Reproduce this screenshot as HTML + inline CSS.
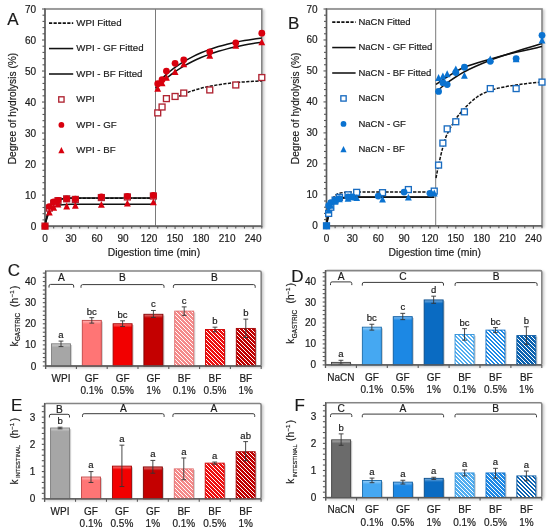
<!DOCTYPE html>
<html><head><meta charset="utf-8"><style>
html,body{margin:0;padding:0;background:#fff;overflow:hidden;width:550px;height:532px;}
svg{display:block;font-family:"Liberation Sans", sans-serif;}
text{stroke:#1a1a1a;stroke-width:0.18px;}
svg{will-change:transform;}
</style></head><body>
<svg width="550" height="532" viewBox="0 0 550 532">
<defs><linearGradient id="hl" x1="0" y1="0" x2="0" y2="1"><stop offset="0" stop-color="#fff" stop-opacity="0.42"/><stop offset="1" stop-color="#fff" stop-opacity="0"/></linearGradient><filter id="sh" x="-5%" y="-5%" width="112%" height="112%"><feDropShadow dx="1.6" dy="1.2" stdDeviation="1" flood-color="#000" flood-opacity="0.22"/></filter><pattern id="hp" patternUnits="userSpaceOnUse" width="2.4" height="2.4" patternTransform="rotate(45)"><rect width="2.4" height="2.4" fill="#fff"/><rect width="2.4" height="1.45" fill="#f58a8a" shape-rendering="crispEdges"/></pattern><pattern id="hr" patternUnits="userSpaceOnUse" width="2.4" height="2.4" patternTransform="rotate(45)"><rect width="2.4" height="2.4" fill="#fff"/><rect width="2.4" height="1.45" fill="#ee1010" shape-rendering="crispEdges"/></pattern><pattern id="hd" patternUnits="userSpaceOnUse" width="2.4" height="2.4" patternTransform="rotate(45)"><rect width="2.4" height="2.4" fill="#fff"/><rect width="2.4" height="1.45" fill="#c00000" shape-rendering="crispEdges"/></pattern><pattern id="bl" patternUnits="userSpaceOnUse" width="2.4" height="2.4" patternTransform="rotate(45)"><rect width="2.4" height="2.4" fill="#fff"/><rect width="2.4" height="1.45" fill="#52aef0" shape-rendering="crispEdges"/></pattern><pattern id="bm" patternUnits="userSpaceOnUse" width="2.4" height="2.4" patternTransform="rotate(45)"><rect width="2.4" height="2.4" fill="#fff"/><rect width="2.4" height="1.45" fill="#1f8ae6" shape-rendering="crispEdges"/></pattern><pattern id="bd" patternUnits="userSpaceOnUse" width="2.4" height="2.4" patternTransform="rotate(45)"><rect width="2.4" height="2.4" fill="#fff"/><rect width="2.4" height="1.45" fill="#0b62b0" shape-rendering="crispEdges"/></pattern><clipPath id="cp8"><rect x="174.7" y="311.11" width="19" height="54.89"/></clipPath><clipPath id="cp9"><rect x="205.5" y="329.48" width="19" height="36.52"/></clipPath><clipPath id="cp10"><rect x="236.3" y="328.42" width="19" height="37.58"/></clipPath><clipPath id="cp11"><rect x="455.05" y="334.51" width="19" height="30.39"/></clipPath><clipPath id="cp12"><rect x="485.95" y="330.11" width="19" height="34.79"/></clipPath><clipPath id="cp13"><rect x="516.85" y="335.56" width="19" height="29.34"/></clipPath><clipPath id="cp14"><rect x="174.28" y="468.85" width="19" height="29.95"/></clipPath><clipPath id="cp15"><rect x="205.21" y="463.13" width="19" height="35.67"/></clipPath><clipPath id="cp16"><rect x="236.14" y="451.69" width="19" height="47.11"/></clipPath><clipPath id="cp17"><rect x="455.12" y="472.93" width="19" height="24.67"/></clipPath><clipPath id="cp18"><rect x="485.99" y="472.93" width="19" height="24.67"/></clipPath><clipPath id="cp19"><rect x="516.86" y="475.91" width="19" height="21.69"/></clipPath><filter id="bl" filterUnits="userSpaceOnUse" x="0" y="0" width="550" height="532"><feGaussianBlur stdDeviation="0.3"/></filter></defs>
<rect width="550" height="532" fill="#fff"/>
<g filter="url(#bl)"><rect x="45" y="9" width="216.8" height="217.1" fill="#fff" stroke="#858585" stroke-width="1.6" filter="url(#sh)"/>
<line x1="155.5" y1="9" x2="155.5" y2="226.1" stroke="#7a7a7a" stroke-width="1" />
<line x1="45" y1="8.4" x2="45" y2="226.7" stroke="#5a5a5a" stroke-width="1.3" />
<line x1="44.4" y1="226.1" x2="261.8" y2="226.1" stroke="#5a5a5a" stroke-width="1.3" />
<line x1="42" y1="226.1" x2="45" y2="226.1" stroke="#5a5a5a" stroke-width="1.1" />
<line x1="42.5" y1="219.9" x2="45" y2="219.9" stroke="#5a5a5a" stroke-width="1.1" />
<line x1="42.5" y1="213.69" x2="45" y2="213.69" stroke="#5a5a5a" stroke-width="1.1" />
<line x1="42.5" y1="207.49" x2="45" y2="207.49" stroke="#5a5a5a" stroke-width="1.1" />
<line x1="42.5" y1="201.29" x2="45" y2="201.29" stroke="#5a5a5a" stroke-width="1.1" />
<line x1="42" y1="195.09" x2="45" y2="195.09" stroke="#5a5a5a" stroke-width="1.1" />
<line x1="42.5" y1="188.88" x2="45" y2="188.88" stroke="#5a5a5a" stroke-width="1.1" />
<line x1="42.5" y1="182.68" x2="45" y2="182.68" stroke="#5a5a5a" stroke-width="1.1" />
<line x1="42.5" y1="176.48" x2="45" y2="176.48" stroke="#5a5a5a" stroke-width="1.1" />
<line x1="42.5" y1="170.27" x2="45" y2="170.27" stroke="#5a5a5a" stroke-width="1.1" />
<line x1="42" y1="164.07" x2="45" y2="164.07" stroke="#5a5a5a" stroke-width="1.1" />
<line x1="42.5" y1="157.87" x2="45" y2="157.87" stroke="#5a5a5a" stroke-width="1.1" />
<line x1="42.5" y1="151.67" x2="45" y2="151.67" stroke="#5a5a5a" stroke-width="1.1" />
<line x1="42.5" y1="145.46" x2="45" y2="145.46" stroke="#5a5a5a" stroke-width="1.1" />
<line x1="42.5" y1="139.26" x2="45" y2="139.26" stroke="#5a5a5a" stroke-width="1.1" />
<line x1="42" y1="133.06" x2="45" y2="133.06" stroke="#5a5a5a" stroke-width="1.1" />
<line x1="42.5" y1="126.85" x2="45" y2="126.85" stroke="#5a5a5a" stroke-width="1.1" />
<line x1="42.5" y1="120.65" x2="45" y2="120.65" stroke="#5a5a5a" stroke-width="1.1" />
<line x1="42.5" y1="114.45" x2="45" y2="114.45" stroke="#5a5a5a" stroke-width="1.1" />
<line x1="42.5" y1="108.25" x2="45" y2="108.25" stroke="#5a5a5a" stroke-width="1.1" />
<line x1="42" y1="102.04" x2="45" y2="102.04" stroke="#5a5a5a" stroke-width="1.1" />
<line x1="42.5" y1="95.84" x2="45" y2="95.84" stroke="#5a5a5a" stroke-width="1.1" />
<line x1="42.5" y1="89.64" x2="45" y2="89.64" stroke="#5a5a5a" stroke-width="1.1" />
<line x1="42.5" y1="83.43" x2="45" y2="83.43" stroke="#5a5a5a" stroke-width="1.1" />
<line x1="42.5" y1="77.23" x2="45" y2="77.23" stroke="#5a5a5a" stroke-width="1.1" />
<line x1="42" y1="71.03" x2="45" y2="71.03" stroke="#5a5a5a" stroke-width="1.1" />
<line x1="42.5" y1="64.83" x2="45" y2="64.83" stroke="#5a5a5a" stroke-width="1.1" />
<line x1="42.5" y1="58.62" x2="45" y2="58.62" stroke="#5a5a5a" stroke-width="1.1" />
<line x1="42.5" y1="52.42" x2="45" y2="52.42" stroke="#5a5a5a" stroke-width="1.1" />
<line x1="42.5" y1="46.22" x2="45" y2="46.22" stroke="#5a5a5a" stroke-width="1.1" />
<line x1="42" y1="40.01" x2="45" y2="40.01" stroke="#5a5a5a" stroke-width="1.1" />
<line x1="42.5" y1="33.81" x2="45" y2="33.81" stroke="#5a5a5a" stroke-width="1.1" />
<line x1="42.5" y1="27.61" x2="45" y2="27.61" stroke="#5a5a5a" stroke-width="1.1" />
<line x1="42.5" y1="21.41" x2="45" y2="21.41" stroke="#5a5a5a" stroke-width="1.1" />
<line x1="42.5" y1="15.2" x2="45" y2="15.2" stroke="#5a5a5a" stroke-width="1.1" />
<line x1="42" y1="9" x2="45" y2="9" stroke="#5a5a5a" stroke-width="1.1" />
<line x1="45" y1="226.1" x2="45" y2="229.1" stroke="#5a5a5a" stroke-width="1.1" />
<line x1="53.67" y1="226.1" x2="53.67" y2="228.6" stroke="#5a5a5a" stroke-width="1.1" />
<line x1="62.34" y1="226.1" x2="62.34" y2="228.6" stroke="#5a5a5a" stroke-width="1.1" />
<line x1="71.02" y1="226.1" x2="71.02" y2="229.1" stroke="#5a5a5a" stroke-width="1.1" />
<line x1="79.69" y1="226.1" x2="79.69" y2="228.6" stroke="#5a5a5a" stroke-width="1.1" />
<line x1="88.36" y1="226.1" x2="88.36" y2="228.6" stroke="#5a5a5a" stroke-width="1.1" />
<line x1="97.03" y1="226.1" x2="97.03" y2="229.1" stroke="#5a5a5a" stroke-width="1.1" />
<line x1="105.7" y1="226.1" x2="105.7" y2="228.6" stroke="#5a5a5a" stroke-width="1.1" />
<line x1="114.38" y1="226.1" x2="114.38" y2="228.6" stroke="#5a5a5a" stroke-width="1.1" />
<line x1="123.05" y1="226.1" x2="123.05" y2="229.1" stroke="#5a5a5a" stroke-width="1.1" />
<line x1="131.72" y1="226.1" x2="131.72" y2="228.6" stroke="#5a5a5a" stroke-width="1.1" />
<line x1="140.39" y1="226.1" x2="140.39" y2="228.6" stroke="#5a5a5a" stroke-width="1.1" />
<line x1="149.06" y1="226.1" x2="149.06" y2="229.1" stroke="#5a5a5a" stroke-width="1.1" />
<line x1="157.74" y1="226.1" x2="157.74" y2="228.6" stroke="#5a5a5a" stroke-width="1.1" />
<line x1="166.41" y1="226.1" x2="166.41" y2="228.6" stroke="#5a5a5a" stroke-width="1.1" />
<line x1="175.08" y1="226.1" x2="175.08" y2="229.1" stroke="#5a5a5a" stroke-width="1.1" />
<line x1="183.75" y1="226.1" x2="183.75" y2="228.6" stroke="#5a5a5a" stroke-width="1.1" />
<line x1="192.42" y1="226.1" x2="192.42" y2="228.6" stroke="#5a5a5a" stroke-width="1.1" />
<line x1="201.1" y1="226.1" x2="201.1" y2="229.1" stroke="#5a5a5a" stroke-width="1.1" />
<line x1="209.77" y1="226.1" x2="209.77" y2="228.6" stroke="#5a5a5a" stroke-width="1.1" />
<line x1="218.44" y1="226.1" x2="218.44" y2="228.6" stroke="#5a5a5a" stroke-width="1.1" />
<line x1="227.11" y1="226.1" x2="227.11" y2="229.1" stroke="#5a5a5a" stroke-width="1.1" />
<line x1="235.78" y1="226.1" x2="235.78" y2="228.6" stroke="#5a5a5a" stroke-width="1.1" />
<line x1="244.46" y1="226.1" x2="244.46" y2="228.6" stroke="#5a5a5a" stroke-width="1.1" />
<line x1="253.13" y1="226.1" x2="253.13" y2="229.1" stroke="#5a5a5a" stroke-width="1.1" />
<line x1="261.8" y1="226.1" x2="261.8" y2="228.6" stroke="#5a5a5a" stroke-width="1.1" />
<text x="36.2" y="229.6" font-size="10" text-anchor="end" fill="#1a1a1a" >0</text>
<text x="36.2" y="198.59" font-size="10" text-anchor="end" fill="#1a1a1a" >10</text>
<text x="36.2" y="167.57" font-size="10" text-anchor="end" fill="#1a1a1a" >20</text>
<text x="36.2" y="136.56" font-size="10" text-anchor="end" fill="#1a1a1a" >30</text>
<text x="36.2" y="105.54" font-size="10" text-anchor="end" fill="#1a1a1a" >40</text>
<text x="36.2" y="74.53" font-size="10" text-anchor="end" fill="#1a1a1a" >50</text>
<text x="36.2" y="43.51" font-size="10" text-anchor="end" fill="#1a1a1a" >60</text>
<text x="36.2" y="12.5" font-size="10" text-anchor="end" fill="#1a1a1a" >70</text>
<text x="45" y="241.9" font-size="10" text-anchor="middle" fill="#1a1a1a" >0</text>
<text x="71.02" y="241.9" font-size="10" text-anchor="middle" fill="#1a1a1a" >30</text>
<text x="97.03" y="241.9" font-size="10" text-anchor="middle" fill="#1a1a1a" >60</text>
<text x="123.05" y="241.9" font-size="10" text-anchor="middle" fill="#1a1a1a" >90</text>
<text x="149.06" y="241.9" font-size="10" text-anchor="middle" fill="#1a1a1a" >120</text>
<text x="175.08" y="241.9" font-size="10" text-anchor="middle" fill="#1a1a1a" >150</text>
<text x="201.1" y="241.9" font-size="10" text-anchor="middle" fill="#1a1a1a" >180</text>
<text x="227.11" y="241.9" font-size="10" text-anchor="middle" fill="#1a1a1a" >210</text>
<text x="253.13" y="241.9" font-size="10" text-anchor="middle" fill="#1a1a1a" >240</text>
<text x="153.9" y="256.4" font-size="10.4" text-anchor="middle" fill="#1a1a1a" >Digestion time (min)</text>
<text transform="translate(16,108.55) rotate(-90)" font-size="10.2" text-anchor="middle" fill="#1a1a1a">Degree of hydrolysis (%)</text>
<text x="7.2" y="25" font-size="17" text-anchor="start" fill="#1a1a1a" >A</text>
<path d="M45,226.1 C45.14,225.33 45.58,222.91 45.87,221.5 C46.16,220.1 46.45,218.84 46.73,217.66 C47.02,216.49 47.31,215.43 47.6,214.45 C47.89,213.47 48.18,212.59 48.47,211.77 C48.76,210.95 49.05,210.22 49.34,209.54 C49.63,208.85 49.77,208.46 50.2,207.67 C50.64,206.88 51.36,205.61 51.94,204.8 C52.52,203.99 53.09,203.37 53.67,202.8 C54.25,202.24 54.68,201.86 55.41,201.41 C56.13,200.95 56.85,200.47 58.01,200.06 C59.16,199.65 60.9,199.21 62.34,198.95 C63.79,198.69 65.23,198.6 66.68,198.5 C68.13,198.39 68.85,198.36 71.02,198.31 C73.18,198.27 76.8,198.23 79.69,198.21 C82.58,198.19 84.02,198.19 88.36,198.19 C92.7,198.19 99.92,198.19 105.7,198.19 C111.49,198.19 117.27,198.19 123.05,198.19 C128.83,198.19 135.33,198.19 140.39,198.19 C145.45,198.19 151.23,198.19 153.4,198.19" stroke="#111" stroke-width="1.5" fill="none" stroke-dasharray="3.2,1.4" stroke-linecap="butt"/>
<path d="M175.08,98.32 C176.53,97.61 180.86,95.33 183.75,94.07 C186.64,92.82 189.53,91.76 192.42,90.78 C195.31,89.81 198.21,88.99 201.1,88.23 C203.99,87.47 206.88,86.84 209.77,86.25 C212.66,85.66 215.55,85.17 218.44,84.71 C221.33,84.26 224.22,83.88 227.11,83.52 C230,83.17 232.89,82.87 235.78,82.6 C238.67,82.32 241.57,82.09 244.46,81.88 C247.35,81.67 250.24,81.49 253.13,81.33 C256.02,81.16 260.35,80.97 261.8,80.89" stroke="#111" stroke-width="1.5" fill="none" stroke-dasharray="3.2,1.4" stroke-linecap="butt"/>
<path d="M45,226.1 C45.14,225.33 45.58,222.87 45.87,221.45 C46.16,220.03 46.45,218.76 46.73,217.57 C47.02,216.38 47.31,215.32 47.6,214.32 C47.89,213.33 48.18,212.44 48.47,211.61 C48.76,210.79 49.05,210.04 49.34,209.35 C49.63,208.66 49.77,208.26 50.2,207.46 C50.64,206.66 51.36,205.38 51.94,204.56 C52.52,203.74 53.09,203.11 53.67,202.54 C54.25,201.97 54.68,201.59 55.41,201.13 C56.13,200.67 56.85,200.19 58.01,199.77 C59.16,199.36 60.9,198.91 62.34,198.65 C63.79,198.38 65.23,198.3 66.68,198.19 C68.13,198.08 68.85,198.05 71.02,198 C73.18,197.96 76.8,197.92 79.69,197.9 C82.58,197.88 84.02,197.88 88.36,197.88 C92.7,197.88 99.92,197.88 105.7,197.88 C111.49,197.88 117.27,197.88 123.05,197.88 C128.83,197.88 135.33,197.88 140.39,197.88 C145.45,197.88 151.23,197.88 153.4,197.88" stroke="#111" stroke-width="1.5" fill="none"  stroke-linecap="butt"/>
<path d="M45,226.1 C45.14,225.44 45.58,223.34 45.87,222.14 C46.16,220.94 46.45,219.88 46.73,218.89 C47.02,217.91 47.31,217.04 47.6,216.23 C47.89,215.43 48.18,214.72 48.47,214.06 C48.76,213.4 49.05,212.82 49.34,212.28 C49.63,211.74 49.77,211.43 50.2,210.82 C50.64,210.22 51.36,209.25 51.94,208.65 C52.52,208.04 53.09,207.6 53.67,207.19 C54.25,206.79 54.68,206.53 55.41,206.22 C56.13,205.91 56.85,205.59 58.01,205.32 C59.16,205.06 60.9,204.79 62.34,204.64 C63.79,204.48 65.23,204.44 66.68,204.38 C68.13,204.32 68.85,204.31 71.02,204.29 C73.18,204.27 76.8,204.25 79.69,204.24 C82.58,204.23 84.02,204.24 88.36,204.24 C92.7,204.23 99.92,204.24 105.7,204.23 C111.49,204.23 117.27,204.23 123.05,204.23 C128.83,204.23 135.33,204.23 140.39,204.23 C145.45,204.23 151.23,204.23 153.4,204.23" stroke="#111" stroke-width="1.5" fill="none"  stroke-linecap="butt"/>
<path d="M155.57,84.98 C155.93,84.6 157.01,83.42 157.74,82.66 C158.46,81.91 159.18,81.17 159.9,80.45 C160.63,79.72 160.99,79.34 162.07,78.33 C163.16,77.31 164.96,75.63 166.41,74.36 C167.85,73.1 169.3,71.89 170.74,70.74 C172.19,69.58 172.91,68.94 175.08,67.43 C177.25,65.91 180.86,63.41 183.75,61.63 C186.64,59.86 189.53,58.28 192.42,56.8 C195.31,55.32 198.21,53.99 201.1,52.75 C203.99,51.52 206.88,50.41 209.77,49.38 C212.66,48.35 215.55,47.42 218.44,46.56 C221.33,45.7 224.22,44.92 227.11,44.2 C230,43.48 232.89,42.84 235.78,42.24 C238.67,41.63 241.57,41.1 244.46,40.59 C247.35,40.09 250.24,39.64 253.13,39.22 C256.02,38.8 260.35,38.26 261.8,38.07" stroke="#111" stroke-width="1.5" fill="none"  stroke-linecap="butt"/>
<path d="M155.57,88.09 C155.93,87.73 157.01,86.65 157.74,85.96 C158.46,85.26 159.18,84.58 159.9,83.91 C160.63,83.24 160.99,82.89 162.07,81.95 C163.16,81.01 164.96,79.44 166.41,78.26 C167.85,77.08 169.3,75.95 170.74,74.86 C172.19,73.78 172.91,73.18 175.08,71.74 C177.25,70.29 180.86,67.91 183.75,66.2 C186.64,64.5 189.53,62.96 192.42,61.51 C195.31,60.07 198.21,58.76 201.1,57.53 C203.99,56.31 206.88,55.2 209.77,54.16 C212.66,53.12 215.55,52.18 218.44,51.3 C221.33,50.42 224.22,49.62 227.11,48.88 C230,48.13 232.89,47.45 235.78,46.82 C238.67,46.19 241.57,45.62 244.46,45.08 C247.35,44.54 250.24,44.06 253.13,43.6 C256.02,43.15 260.35,42.56 261.8,42.35" stroke="#111" stroke-width="1.5" fill="none"  stroke-linecap="butt"/>
<rect x="42.05" y="223.15" width="5.9" height="5.9" fill="#fff" stroke="#b02432" stroke-width="1.35"/>
<rect x="46.39" y="205.16" width="5.9" height="5.9" fill="#fff" stroke="#b02432" stroke-width="1.35"/>
<rect x="50.72" y="200.2" width="5.9" height="5.9" fill="#fff" stroke="#b02432" stroke-width="1.35"/>
<rect x="55.06" y="197.72" width="5.9" height="5.9" fill="#fff" stroke="#b02432" stroke-width="1.35"/>
<rect x="63.73" y="195.86" width="5.9" height="5.9" fill="#fff" stroke="#b02432" stroke-width="1.35"/>
<rect x="72.4" y="196.48" width="5.9" height="5.9" fill="#fff" stroke="#b02432" stroke-width="1.35"/>
<rect x="98.42" y="194.62" width="5.9" height="5.9" fill="#fff" stroke="#b02432" stroke-width="1.35"/>
<rect x="124.43" y="194" width="5.9" height="5.9" fill="#fff" stroke="#b02432" stroke-width="1.35"/>
<rect x="150.45" y="193.07" width="5.9" height="5.9" fill="#fff" stroke="#b02432" stroke-width="1.35"/>
<rect x="154.79" y="109.95" width="5.9" height="5.9" fill="#fff" stroke="#b02432" stroke-width="1.35"/>
<rect x="159.12" y="104.06" width="5.9" height="5.9" fill="#fff" stroke="#b02432" stroke-width="1.35"/>
<rect x="163.46" y="95.68" width="5.9" height="5.9" fill="#fff" stroke="#b02432" stroke-width="1.35"/>
<rect x="172.13" y="93.51" width="5.9" height="5.9" fill="#fff" stroke="#b02432" stroke-width="1.35"/>
<rect x="180.8" y="90.1" width="5.9" height="5.9" fill="#fff" stroke="#b02432" stroke-width="1.35"/>
<rect x="206.82" y="87" width="5.9" height="5.9" fill="#fff" stroke="#b02432" stroke-width="1.35"/>
<rect x="232.83" y="82.03" width="5.9" height="5.9" fill="#fff" stroke="#b02432" stroke-width="1.35"/>
<rect x="258.85" y="74.59" width="5.9" height="5.9" fill="#fff" stroke="#b02432" stroke-width="1.35"/>
<circle cx="45" cy="226.1" r="3.4" fill="#d8000e"/>
<circle cx="49.34" cy="206.56" r="3.4" fill="#d8000e"/>
<circle cx="53.67" cy="201.91" r="3.4" fill="#d8000e"/>
<circle cx="58.01" cy="200.36" r="3.4" fill="#d8000e"/>
<circle cx="66.68" cy="198.81" r="3.4" fill="#d8000e"/>
<circle cx="75.35" cy="199.12" r="3.4" fill="#d8000e"/>
<circle cx="101.37" cy="196.95" r="3.4" fill="#d8000e"/>
<circle cx="127.38" cy="196.33" r="3.4" fill="#d8000e"/>
<circle cx="153.4" cy="195.4" r="3.4" fill="#d8000e"/>
<circle cx="157.74" cy="83.74" r="3.4" fill="#d8000e"/>
<circle cx="162.07" cy="79.71" r="3.4" fill="#d8000e"/>
<circle cx="166.41" cy="71.03" r="3.4" fill="#d8000e"/>
<circle cx="175.08" cy="63.28" r="3.4" fill="#d8000e"/>
<circle cx="183.75" cy="59.86" r="3.4" fill="#d8000e"/>
<circle cx="209.77" cy="51.8" r="3.4" fill="#d8000e"/>
<circle cx="235.78" cy="42.81" r="3.4" fill="#d8000e"/>
<circle cx="261.8" cy="33.19" r="3.4" fill="#d8000e"/>
<path d="M45,222.42 L48.43,229.25 L41.57,229.25Z" fill="#d8000e"/>
<path d="M49.34,208.78 L52.77,215.6 L45.91,215.6Z" fill="#d8000e"/>
<path d="M53.67,203.82 L57.1,210.64 L50.24,210.64Z" fill="#d8000e"/>
<path d="M58.01,200.71 L61.44,207.54 L54.58,207.54Z" fill="#d8000e"/>
<path d="M66.68,202.58 L70.11,209.4 L63.25,209.4Z" fill="#d8000e"/>
<path d="M75.35,201.96 L78.78,208.78 L71.92,208.78Z" fill="#d8000e"/>
<path d="M101.37,201.03 L104.8,207.85 L97.94,207.85Z" fill="#d8000e"/>
<path d="M127.38,199.78 L130.81,206.61 L123.95,206.61Z" fill="#d8000e"/>
<path d="M153.4,198.54 L156.83,205.37 L149.97,205.37Z" fill="#d8000e"/>
<path d="M157.74,85.03 L161.17,91.86 L154.31,91.86Z" fill="#d8000e"/>
<path d="M162.07,79.45 L165.5,86.27 L158.64,86.27Z" fill="#d8000e"/>
<path d="M166.41,73.87 L169.84,80.69 L162.98,80.69Z" fill="#d8000e"/>
<path d="M175.08,68.28 L178.51,75.11 L171.65,75.11Z" fill="#d8000e"/>
<path d="M183.75,60.53 L187.18,67.36 L180.32,67.36Z" fill="#d8000e"/>
<path d="M209.77,51.85 L213.2,58.67 L206.34,58.67Z" fill="#d8000e"/>
<path d="M235.78,41.92 L239.21,48.75 L232.35,48.75Z" fill="#d8000e"/>
<path d="M261.8,38.51 L265.23,45.34 L258.37,45.34Z" fill="#d8000e"/>
<line x1="49" y1="23.1" x2="73.2" y2="23.1" stroke="#111" stroke-width="1.55" stroke-dasharray="3.2,1.36"/>
<text x="76.3" y="26" font-size="9.7" text-anchor="start" fill="#1a1a1a" >WPI Fitted</text>
<line x1="49" y1="48.55" x2="73.2" y2="48.55" stroke="#111" stroke-width="1.55" />
<text x="76.3" y="51.45" font-size="9.7" text-anchor="start" fill="#1a1a1a" >WPI - GF Fitted</text>
<line x1="49" y1="74" x2="73.2" y2="74" stroke="#111" stroke-width="1.55" />
<text x="76.3" y="76.9" font-size="9.7" text-anchor="start" fill="#1a1a1a" >WPI - BF Fitted</text>
<rect x="58.74" y="96.79" width="5.31" height="5.31" fill="#fff" stroke="#b02432" stroke-width="1.35"/>
<text x="76.3" y="102.35" font-size="9.7" text-anchor="start" fill="#1a1a1a" >WPI</text>
<circle cx="61.4" cy="124.9" r="2.89" fill="#d8000e"/>
<text x="76.3" y="127.8" font-size="9.7" text-anchor="start" fill="#1a1a1a" >WPI - GF</text>
<path d="M61.4,147.04 L64.49,153.19 L58.31,153.19Z" fill="#d8000e"/>
<text x="76.3" y="153.25" font-size="9.7" text-anchor="start" fill="#1a1a1a" >WPI - BF</text>
<rect x="326.5" y="9" width="215.5" height="216.8" fill="#fff" stroke="#858585" stroke-width="1.6" filter="url(#sh)"/>
<line x1="435.7" y1="9" x2="435.7" y2="225.8" stroke="#7a7a7a" stroke-width="1" />
<line x1="326.5" y1="8.4" x2="326.5" y2="226.4" stroke="#5a5a5a" stroke-width="1.3" />
<line x1="325.9" y1="225.8" x2="542" y2="225.8" stroke="#5a5a5a" stroke-width="1.3" />
<line x1="323.5" y1="225.8" x2="326.5" y2="225.8" stroke="#5a5a5a" stroke-width="1.1" />
<line x1="324" y1="219.61" x2="326.5" y2="219.61" stroke="#5a5a5a" stroke-width="1.1" />
<line x1="324" y1="213.41" x2="326.5" y2="213.41" stroke="#5a5a5a" stroke-width="1.1" />
<line x1="324" y1="207.22" x2="326.5" y2="207.22" stroke="#5a5a5a" stroke-width="1.1" />
<line x1="324" y1="201.02" x2="326.5" y2="201.02" stroke="#5a5a5a" stroke-width="1.1" />
<line x1="323.5" y1="194.83" x2="326.5" y2="194.83" stroke="#5a5a5a" stroke-width="1.1" />
<line x1="324" y1="188.63" x2="326.5" y2="188.63" stroke="#5a5a5a" stroke-width="1.1" />
<line x1="324" y1="182.44" x2="326.5" y2="182.44" stroke="#5a5a5a" stroke-width="1.1" />
<line x1="324" y1="176.25" x2="326.5" y2="176.25" stroke="#5a5a5a" stroke-width="1.1" />
<line x1="324" y1="170.05" x2="326.5" y2="170.05" stroke="#5a5a5a" stroke-width="1.1" />
<line x1="323.5" y1="163.86" x2="326.5" y2="163.86" stroke="#5a5a5a" stroke-width="1.1" />
<line x1="324" y1="157.66" x2="326.5" y2="157.66" stroke="#5a5a5a" stroke-width="1.1" />
<line x1="324" y1="151.47" x2="326.5" y2="151.47" stroke="#5a5a5a" stroke-width="1.1" />
<line x1="324" y1="145.27" x2="326.5" y2="145.27" stroke="#5a5a5a" stroke-width="1.1" />
<line x1="324" y1="139.08" x2="326.5" y2="139.08" stroke="#5a5a5a" stroke-width="1.1" />
<line x1="323.5" y1="132.89" x2="326.5" y2="132.89" stroke="#5a5a5a" stroke-width="1.1" />
<line x1="324" y1="126.69" x2="326.5" y2="126.69" stroke="#5a5a5a" stroke-width="1.1" />
<line x1="324" y1="120.5" x2="326.5" y2="120.5" stroke="#5a5a5a" stroke-width="1.1" />
<line x1="324" y1="114.3" x2="326.5" y2="114.3" stroke="#5a5a5a" stroke-width="1.1" />
<line x1="324" y1="108.11" x2="326.5" y2="108.11" stroke="#5a5a5a" stroke-width="1.1" />
<line x1="323.5" y1="101.91" x2="326.5" y2="101.91" stroke="#5a5a5a" stroke-width="1.1" />
<line x1="324" y1="95.72" x2="326.5" y2="95.72" stroke="#5a5a5a" stroke-width="1.1" />
<line x1="324" y1="89.53" x2="326.5" y2="89.53" stroke="#5a5a5a" stroke-width="1.1" />
<line x1="324" y1="83.33" x2="326.5" y2="83.33" stroke="#5a5a5a" stroke-width="1.1" />
<line x1="324" y1="77.14" x2="326.5" y2="77.14" stroke="#5a5a5a" stroke-width="1.1" />
<line x1="323.5" y1="70.94" x2="326.5" y2="70.94" stroke="#5a5a5a" stroke-width="1.1" />
<line x1="324" y1="64.75" x2="326.5" y2="64.75" stroke="#5a5a5a" stroke-width="1.1" />
<line x1="324" y1="58.55" x2="326.5" y2="58.55" stroke="#5a5a5a" stroke-width="1.1" />
<line x1="324" y1="52.36" x2="326.5" y2="52.36" stroke="#5a5a5a" stroke-width="1.1" />
<line x1="324" y1="46.17" x2="326.5" y2="46.17" stroke="#5a5a5a" stroke-width="1.1" />
<line x1="323.5" y1="39.97" x2="326.5" y2="39.97" stroke="#5a5a5a" stroke-width="1.1" />
<line x1="324" y1="33.78" x2="326.5" y2="33.78" stroke="#5a5a5a" stroke-width="1.1" />
<line x1="324" y1="27.58" x2="326.5" y2="27.58" stroke="#5a5a5a" stroke-width="1.1" />
<line x1="324" y1="21.39" x2="326.5" y2="21.39" stroke="#5a5a5a" stroke-width="1.1" />
<line x1="324" y1="15.19" x2="326.5" y2="15.19" stroke="#5a5a5a" stroke-width="1.1" />
<line x1="323.5" y1="9" x2="326.5" y2="9" stroke="#5a5a5a" stroke-width="1.1" />
<line x1="326.5" y1="225.8" x2="326.5" y2="228.8" stroke="#5a5a5a" stroke-width="1.1" />
<line x1="335.12" y1="225.8" x2="335.12" y2="228.3" stroke="#5a5a5a" stroke-width="1.1" />
<line x1="343.74" y1="225.8" x2="343.74" y2="228.3" stroke="#5a5a5a" stroke-width="1.1" />
<line x1="352.36" y1="225.8" x2="352.36" y2="228.8" stroke="#5a5a5a" stroke-width="1.1" />
<line x1="360.98" y1="225.8" x2="360.98" y2="228.3" stroke="#5a5a5a" stroke-width="1.1" />
<line x1="369.6" y1="225.8" x2="369.6" y2="228.3" stroke="#5a5a5a" stroke-width="1.1" />
<line x1="378.22" y1="225.8" x2="378.22" y2="228.8" stroke="#5a5a5a" stroke-width="1.1" />
<line x1="386.84" y1="225.8" x2="386.84" y2="228.3" stroke="#5a5a5a" stroke-width="1.1" />
<line x1="395.46" y1="225.8" x2="395.46" y2="228.3" stroke="#5a5a5a" stroke-width="1.1" />
<line x1="404.08" y1="225.8" x2="404.08" y2="228.8" stroke="#5a5a5a" stroke-width="1.1" />
<line x1="412.7" y1="225.8" x2="412.7" y2="228.3" stroke="#5a5a5a" stroke-width="1.1" />
<line x1="421.32" y1="225.8" x2="421.32" y2="228.3" stroke="#5a5a5a" stroke-width="1.1" />
<line x1="429.94" y1="225.8" x2="429.94" y2="228.8" stroke="#5a5a5a" stroke-width="1.1" />
<line x1="438.56" y1="225.8" x2="438.56" y2="228.3" stroke="#5a5a5a" stroke-width="1.1" />
<line x1="447.18" y1="225.8" x2="447.18" y2="228.3" stroke="#5a5a5a" stroke-width="1.1" />
<line x1="455.8" y1="225.8" x2="455.8" y2="228.8" stroke="#5a5a5a" stroke-width="1.1" />
<line x1="464.42" y1="225.8" x2="464.42" y2="228.3" stroke="#5a5a5a" stroke-width="1.1" />
<line x1="473.04" y1="225.8" x2="473.04" y2="228.3" stroke="#5a5a5a" stroke-width="1.1" />
<line x1="481.66" y1="225.8" x2="481.66" y2="228.8" stroke="#5a5a5a" stroke-width="1.1" />
<line x1="490.28" y1="225.8" x2="490.28" y2="228.3" stroke="#5a5a5a" stroke-width="1.1" />
<line x1="498.9" y1="225.8" x2="498.9" y2="228.3" stroke="#5a5a5a" stroke-width="1.1" />
<line x1="507.52" y1="225.8" x2="507.52" y2="228.8" stroke="#5a5a5a" stroke-width="1.1" />
<line x1="516.14" y1="225.8" x2="516.14" y2="228.3" stroke="#5a5a5a" stroke-width="1.1" />
<line x1="524.76" y1="225.8" x2="524.76" y2="228.3" stroke="#5a5a5a" stroke-width="1.1" />
<line x1="533.38" y1="225.8" x2="533.38" y2="228.8" stroke="#5a5a5a" stroke-width="1.1" />
<line x1="542" y1="225.8" x2="542" y2="228.3" stroke="#5a5a5a" stroke-width="1.1" />
<text x="317.7" y="229.3" font-size="10" text-anchor="end" fill="#1a1a1a" >0</text>
<text x="317.7" y="198.33" font-size="10" text-anchor="end" fill="#1a1a1a" >10</text>
<text x="317.7" y="167.36" font-size="10" text-anchor="end" fill="#1a1a1a" >20</text>
<text x="317.7" y="136.39" font-size="10" text-anchor="end" fill="#1a1a1a" >30</text>
<text x="317.7" y="105.41" font-size="10" text-anchor="end" fill="#1a1a1a" >40</text>
<text x="317.7" y="74.44" font-size="10" text-anchor="end" fill="#1a1a1a" >50</text>
<text x="317.7" y="43.47" font-size="10" text-anchor="end" fill="#1a1a1a" >60</text>
<text x="317.7" y="12.5" font-size="10" text-anchor="end" fill="#1a1a1a" >70</text>
<text x="326.5" y="241.6" font-size="10" text-anchor="middle" fill="#1a1a1a" >0</text>
<text x="352.36" y="241.6" font-size="10" text-anchor="middle" fill="#1a1a1a" >30</text>
<text x="378.22" y="241.6" font-size="10" text-anchor="middle" fill="#1a1a1a" >60</text>
<text x="404.08" y="241.6" font-size="10" text-anchor="middle" fill="#1a1a1a" >90</text>
<text x="429.94" y="241.6" font-size="10" text-anchor="middle" fill="#1a1a1a" >120</text>
<text x="455.8" y="241.6" font-size="10" text-anchor="middle" fill="#1a1a1a" >150</text>
<text x="481.66" y="241.6" font-size="10" text-anchor="middle" fill="#1a1a1a" >180</text>
<text x="507.52" y="241.6" font-size="10" text-anchor="middle" fill="#1a1a1a" >210</text>
<text x="533.38" y="241.6" font-size="10" text-anchor="middle" fill="#1a1a1a" >240</text>
<text x="434.75" y="256.1" font-size="10.4" text-anchor="middle" fill="#1a1a1a" >Digestion time (min)</text>
<text transform="translate(298.5,108.4) rotate(-90)" font-size="10.2" text-anchor="middle" fill="#1a1a1a">Degree of hydrolysis (%)</text>
<text x="287.9" y="28.9" font-size="17" text-anchor="start" fill="#1a1a1a" >B</text>
<path d="M326.5,225.8 C326.64,224.69 327.07,221.14 327.36,219.13 C327.65,217.13 327.94,215.39 328.22,213.78 C328.51,212.18 328.8,210.78 329.09,209.49 C329.37,208.2 329.66,207.08 329.95,206.04 C330.24,205.01 330.52,204.11 330.81,203.28 C331.1,202.45 331.24,201.96 331.67,201.06 C332.1,200.15 332.82,198.73 333.4,197.85 C333.97,196.97 334.55,196.35 335.12,195.78 C335.69,195.22 336.13,194.87 336.84,194.45 C337.56,194.03 338.28,193.62 339.43,193.29 C340.58,192.95 342.3,192.64 343.74,192.46 C345.18,192.27 346.61,192.24 348.05,192.18 C349.49,192.12 350.21,192.11 352.36,192.09 C354.51,192.06 358.11,192.05 360.98,192.05 C363.85,192.04 365.29,192.04 369.6,192.04 C373.91,192.04 381.09,192.04 386.84,192.04 C392.59,192.04 398.33,192.04 404.08,192.04 C409.83,192.04 416.29,192.04 421.32,192.04 C426.35,192.04 432.1,192.04 434.25,192.04" stroke="#111" stroke-width="1.5" fill="none" stroke-dasharray="3.2,1.4" stroke-linecap="butt"/>
<path d="M436,178 C436.43,175.83 437.45,170.17 438.6,165 C439.75,159.83 441.47,152.17 442.9,147 C444.33,141.83 445.05,138.67 447.2,134 C449.35,129.33 452.93,123.25 455.8,119 C458.67,114.75 460.87,112.17 464.4,108.5 C467.93,104.83 472.68,100 477,97 C481.32,94 485.97,92.13 490.3,90.5 C494.63,88.87 498.7,88.12 503,87.2 C507.3,86.28 511.77,85.65 516.1,85 C520.43,84.35 524.68,83.8 529,83.3 C533.32,82.8 539.83,82.22 542,82" stroke="#111" stroke-width="1.5" fill="none" stroke-dasharray="3.2,1.4" stroke-linecap="butt"/>
<path d="M326.5,225.8 C326.64,224.93 327.07,222.16 327.36,220.58 C327.65,219 327.94,217.6 328.22,216.3 C328.51,215.01 328.8,213.87 329.09,212.8 C329.37,211.74 329.66,210.81 329.95,209.94 C330.24,209.07 330.52,208.3 330.81,207.59 C331.1,206.88 331.24,206.47 331.67,205.67 C332.1,204.88 332.82,203.61 333.4,202.81 C333.97,202.02 334.55,201.43 335.12,200.89 C335.69,200.36 336.13,200.02 336.84,199.61 C337.56,199.2 338.28,198.78 339.43,198.43 C340.58,198.08 342.3,197.73 343.74,197.52 C345.18,197.32 346.61,197.27 348.05,197.19 C349.49,197.11 350.21,197.1 352.36,197.07 C354.51,197.04 358.11,197.02 360.98,197.01 C363.85,196.99 365.29,197 369.6,197 C373.91,197 381.09,197 386.84,197 C392.59,197 398.33,197 404.08,197 C409.83,197 416.29,197 421.32,197 C426.35,197 432.1,197 434.25,197" stroke="#111" stroke-width="1.5" fill="none"  stroke-linecap="butt"/>
<path d="M326.5,225.8 C326.64,225.02 327.07,222.54 327.36,221.11 C327.65,219.67 327.94,218.38 328.22,217.19 C328.51,215.99 328.8,214.91 329.09,213.91 C329.37,212.91 329.66,212.01 329.95,211.18 C330.24,210.34 330.52,209.59 330.81,208.89 C331.1,208.19 331.24,207.79 331.67,206.98 C332.1,206.18 332.82,204.88 333.4,204.06 C333.97,203.23 334.55,202.59 335.12,202.02 C335.69,201.44 336.13,201.06 336.84,200.59 C337.56,200.13 338.28,199.64 339.43,199.22 C340.58,198.8 342.3,198.35 343.74,198.08 C345.18,197.82 346.61,197.73 348.05,197.62 C349.49,197.51 350.21,197.48 352.36,197.43 C354.51,197.39 358.11,197.35 360.98,197.33 C363.85,197.31 365.29,197.31 369.6,197.31 C373.91,197.31 381.09,197.31 386.84,197.31 C392.59,197.31 398.33,197.31 404.08,197.31 C409.83,197.31 416.29,197.31 421.32,197.31 C426.35,197.31 432.1,197.31 434.25,197.31" stroke="#111" stroke-width="1.5" fill="none"  stroke-linecap="butt"/>
<path d="M436,92 C437.83,90.5 442.33,86.33 447,83 C451.67,79.67 457,75.7 464,72 C471,68.3 480.33,64.22 489,60.8 C497.67,57.38 507.17,54.38 516,51.5 C524.83,48.62 537.67,44.83 542,43.5" stroke="#111" stroke-width="1.5" fill="none"  stroke-linecap="butt"/>
<path d="M436,84.5 C437.83,83.25 442.33,79.83 447,77 C451.67,74.17 457,70.42 464,67.5 C471,64.58 480.33,62.03 489,59.5 C497.67,56.97 507.17,54.45 516,52.3 C524.83,50.15 537.67,47.55 542,46.6" stroke="#111" stroke-width="1.5" fill="none"  stroke-linecap="butt"/>
<rect x="323.55" y="222.85" width="5.9" height="5.9" fill="#fff" stroke="#1a6cc0" stroke-width="1.35"/>
<rect x="325.7" y="210.46" width="5.9" height="5.9" fill="#fff" stroke="#1a6cc0" stroke-width="1.35"/>
<rect x="327.86" y="204.27" width="5.9" height="5.9" fill="#fff" stroke="#1a6cc0" stroke-width="1.35"/>
<rect x="332.17" y="197.14" width="5.9" height="5.9" fill="#fff" stroke="#1a6cc0" stroke-width="1.35"/>
<rect x="336.48" y="194.36" width="5.9" height="5.9" fill="#fff" stroke="#1a6cc0" stroke-width="1.35"/>
<rect x="345.1" y="191.88" width="5.9" height="5.9" fill="#fff" stroke="#1a6cc0" stroke-width="1.35"/>
<rect x="353.72" y="189.4" width="5.9" height="5.9" fill="#fff" stroke="#1a6cc0" stroke-width="1.35"/>
<rect x="379.58" y="189.71" width="5.9" height="5.9" fill="#fff" stroke="#1a6cc0" stroke-width="1.35"/>
<rect x="405.44" y="186.61" width="5.9" height="5.9" fill="#fff" stroke="#1a6cc0" stroke-width="1.35"/>
<rect x="431.3" y="188.16" width="5.9" height="5.9" fill="#fff" stroke="#1a6cc0" stroke-width="1.35"/>
<rect x="435.61" y="162.15" width="5.9" height="5.9" fill="#fff" stroke="#1a6cc0" stroke-width="1.35"/>
<rect x="439.92" y="140.16" width="5.9" height="5.9" fill="#fff" stroke="#1a6cc0" stroke-width="1.35"/>
<rect x="444.23" y="125.91" width="5.9" height="5.9" fill="#fff" stroke="#1a6cc0" stroke-width="1.35"/>
<rect x="452.85" y="118.79" width="5.9" height="5.9" fill="#fff" stroke="#1a6cc0" stroke-width="1.35"/>
<rect x="461.47" y="108.88" width="5.9" height="5.9" fill="#fff" stroke="#1a6cc0" stroke-width="1.35"/>
<rect x="487.33" y="85.65" width="5.9" height="5.9" fill="#fff" stroke="#1a6cc0" stroke-width="1.35"/>
<rect x="513.19" y="85.65" width="5.9" height="5.9" fill="#fff" stroke="#1a6cc0" stroke-width="1.35"/>
<rect x="539.05" y="79.14" width="5.9" height="5.9" fill="#fff" stroke="#1a6cc0" stroke-width="1.35"/>
<circle cx="326.5" cy="225.8" r="3.4" fill="#0a72d0"/>
<circle cx="328.65" cy="205.67" r="3.4" fill="#0a72d0"/>
<circle cx="330.81" cy="202.57" r="3.4" fill="#0a72d0"/>
<circle cx="335.12" cy="200.09" r="3.4" fill="#0a72d0"/>
<circle cx="339.43" cy="198.55" r="3.4" fill="#0a72d0"/>
<circle cx="348.05" cy="197" r="3.4" fill="#0a72d0"/>
<circle cx="352.36" cy="197" r="3.4" fill="#0a72d0"/>
<circle cx="378.22" cy="196.07" r="3.4" fill="#0a72d0"/>
<circle cx="404.08" cy="192.04" r="3.4" fill="#0a72d0"/>
<circle cx="429.94" cy="193.28" r="3.4" fill="#0a72d0"/>
<circle cx="438.56" cy="91.38" r="3.4" fill="#0a72d0"/>
<circle cx="442.87" cy="82.71" r="3.4" fill="#0a72d0"/>
<circle cx="447.18" cy="84.57" r="3.4" fill="#0a72d0"/>
<circle cx="455.8" cy="72.49" r="3.4" fill="#0a72d0"/>
<circle cx="464.42" cy="67.23" r="3.4" fill="#0a72d0"/>
<circle cx="490.28" cy="61.34" r="3.4" fill="#0a72d0"/>
<circle cx="516.14" cy="58.55" r="3.4" fill="#0a72d0"/>
<circle cx="542" cy="35.33" r="3.4" fill="#0a72d0"/>
<path d="M326.5,222.12 L329.93,228.95 L323.07,228.95Z" fill="#0a72d0"/>
<path d="M328.65,206.64 L332.08,213.46 L325.22,213.46Z" fill="#0a72d0"/>
<path d="M330.81,201.99 L334.24,208.82 L327.38,208.82Z" fill="#0a72d0"/>
<path d="M335.12,197.97 L338.55,204.79 L331.69,204.79Z" fill="#0a72d0"/>
<path d="M339.43,195.49 L342.86,202.31 L336,202.31Z" fill="#0a72d0"/>
<path d="M348.05,194.87 L351.48,201.7 L344.62,201.7Z" fill="#0a72d0"/>
<path d="M356.67,194.25 L360.1,201.08 L353.24,201.08Z" fill="#0a72d0"/>
<path d="M382.53,195.8 L385.96,202.62 L379.1,202.62Z" fill="#0a72d0"/>
<path d="M408.39,193.63 L411.82,200.46 L404.96,200.46Z" fill="#0a72d0"/>
<path d="M434.25,189.6 L437.68,196.43 L430.82,196.43Z" fill="#0a72d0"/>
<path d="M438.56,74.08 L441.99,80.91 L435.13,80.91Z" fill="#0a72d0"/>
<path d="M442.87,72.53 L446.3,79.36 L439.44,79.36Z" fill="#0a72d0"/>
<path d="M447.18,70.36 L450.61,77.19 L443.75,77.19Z" fill="#0a72d0"/>
<path d="M455.8,65.41 L459.23,72.23 L452.37,72.23Z" fill="#0a72d0"/>
<path d="M464.42,71.91 L467.85,78.74 L460.99,78.74Z" fill="#0a72d0"/>
<path d="M490.28,55.5 L493.71,62.32 L486.85,62.32Z" fill="#0a72d0"/>
<path d="M516.14,55.5 L519.57,62.32 L512.71,62.32Z" fill="#0a72d0"/>
<path d="M542,36.61 L545.43,43.43 L538.57,43.43Z" fill="#0a72d0"/>
<line x1="332.2" y1="22.1" x2="355.6" y2="22.1" stroke="#111" stroke-width="1.55" stroke-dasharray="3.2,1.36"/>
<text x="358.4" y="25" font-size="9.5" text-anchor="start" fill="#1a1a1a" >NaCN Fitted</text>
<line x1="332.2" y1="47.55" x2="355.6" y2="47.55" stroke="#111" stroke-width="1.55" />
<text x="358.4" y="50.45" font-size="9.5" text-anchor="start" fill="#1a1a1a" >NaCN - GF Fitted</text>
<line x1="332.2" y1="73" x2="355.6" y2="73" stroke="#111" stroke-width="1.55" />
<text x="358.4" y="75.9" font-size="9.5" text-anchor="start" fill="#1a1a1a" >NaCN - BF Fitted</text>
<rect x="340.85" y="95.79" width="5.31" height="5.31" fill="#fff" stroke="#1a6cc0" stroke-width="1.35"/>
<text x="358.4" y="101.35" font-size="9.5" text-anchor="start" fill="#1a1a1a" >NaCN</text>
<circle cx="343.5" cy="123.9" r="2.89" fill="#0a72d0"/>
<text x="358.4" y="126.8" font-size="9.5" text-anchor="start" fill="#1a1a1a" >NaCN - GF</text>
<path d="M343.5,146.04 L346.59,152.19 L340.41,152.19Z" fill="#0a72d0"/>
<text x="358.4" y="152.25" font-size="9.5" text-anchor="start" fill="#1a1a1a" >NaCN - BF</text>
<rect x="45.6" y="271" width="215.6" height="95" fill="#fff" stroke="#858585" stroke-width="1.6" rx="1.5" filter="url(#sh)"/>
<rect x="53.1" y="345.03" width="19" height="20.97" fill="#000" opacity="0.18"/>
<rect x="51.5" y="343.83" width="19" height="22.17" fill="#a6a6a6" stroke="#7f7f7f" stroke-width="0.9"/>
<rect x="52.1" y="344.33" width="17.8" height="3.2" fill="url(#hl)"/>
<line x1="61" y1="341.09" x2="61" y2="346.58" stroke="#333" stroke-width="0.9" />
<line x1="58.6" y1="341.09" x2="63.4" y2="341.09" stroke="#333" stroke-width="0.9" />
<line x1="58.6" y1="346.58" x2="63.4" y2="346.58" stroke="#333" stroke-width="0.9" />
<text x="61" y="337.99" font-size="9.5" text-anchor="middle" fill="#1a1a1a" >a</text>
<rect x="83.9" y="321.6" width="19" height="44.4" fill="#000" opacity="0.18"/>
<rect x="82.3" y="320.4" width="19" height="45.6" fill="#ff7575" stroke="#c04545" stroke-width="0.9"/>
<rect x="82.9" y="320.9" width="17.8" height="3.2" fill="url(#hl)"/>
<line x1="91.8" y1="317.66" x2="91.8" y2="323.14" stroke="#333" stroke-width="0.9" />
<line x1="89.4" y1="317.66" x2="94.2" y2="317.66" stroke="#333" stroke-width="0.9" />
<line x1="89.4" y1="323.14" x2="94.2" y2="323.14" stroke="#333" stroke-width="0.9" />
<text x="91.8" y="314.56" font-size="9.5" text-anchor="middle" fill="#1a1a1a" >bc</text>
<rect x="114.7" y="324.98" width="19" height="41.02" fill="#000" opacity="0.18"/>
<rect x="113.1" y="323.78" width="19" height="42.22" fill="#f20000" stroke="#a00000" stroke-width="0.9"/>
<rect x="113.7" y="324.28" width="17.8" height="3.2" fill="url(#hl)"/>
<line x1="122.6" y1="320.82" x2="122.6" y2="326.52" stroke="#333" stroke-width="0.9" />
<line x1="120.2" y1="320.82" x2="125" y2="320.82" stroke="#333" stroke-width="0.9" />
<line x1="120.2" y1="326.52" x2="125" y2="326.52" stroke="#333" stroke-width="0.9" />
<text x="122.6" y="317.72" font-size="9.5" text-anchor="middle" fill="#1a1a1a" >bc</text>
<rect x="145.5" y="315.48" width="19" height="50.52" fill="#000" opacity="0.18"/>
<rect x="143.9" y="314.28" width="19" height="51.72" fill="#c40000" stroke="#800000" stroke-width="0.9"/>
<rect x="144.5" y="314.78" width="17.8" height="3.2" fill="url(#hl)"/>
<line x1="153.4" y1="310.48" x2="153.4" y2="317.44" stroke="#333" stroke-width="0.9" />
<line x1="151" y1="310.48" x2="155.8" y2="310.48" stroke="#333" stroke-width="0.9" />
<line x1="151" y1="317.44" x2="155.8" y2="317.44" stroke="#333" stroke-width="0.9" />
<text x="153.4" y="307.38" font-size="9.5" text-anchor="middle" fill="#1a1a1a" >c</text>
<rect x="176.3" y="312.31" width="19" height="53.69" fill="#000" opacity="0.18"/>
<g clip-path="url(#cp8)"><rect x="174.7" y="311.11" width="19" height="54.89" fill="#fff"/><path d="M111.81,311.11L114.53,311.11L169.42,366L166.7,366ZM115.81,311.11L118.53,311.11L173.42,366L170.7,366ZM119.81,311.11L122.53,311.11L177.42,366L174.7,366ZM123.81,311.11L126.53,311.11L181.42,366L178.7,366ZM127.81,311.11L130.53,311.11L185.42,366L182.7,366ZM131.81,311.11L134.53,311.11L189.42,366L186.7,366ZM135.81,311.11L138.53,311.11L193.42,366L190.7,366ZM139.81,311.11L142.53,311.11L197.42,366L194.7,366ZM143.81,311.11L146.53,311.11L201.42,366L198.7,366ZM147.81,311.11L150.53,311.11L205.42,366L202.7,366ZM151.81,311.11L154.53,311.11L209.42,366L206.7,366ZM155.81,311.11L158.53,311.11L213.42,366L210.7,366ZM159.81,311.11L162.53,311.11L217.42,366L214.7,366ZM163.81,311.11L166.53,311.11L221.42,366L218.7,366ZM167.81,311.11L170.53,311.11L225.42,366L222.7,366ZM171.81,311.11L174.53,311.11L229.42,366L226.7,366ZM175.81,311.11L178.53,311.11L233.42,366L230.7,366ZM179.81,311.11L182.53,311.11L237.42,366L234.7,366ZM183.81,311.11L186.53,311.11L241.42,366L238.7,366ZM187.81,311.11L190.53,311.11L245.42,366L242.7,366ZM191.81,311.11L194.53,311.11L249.42,366L246.7,366ZM195.81,311.11L198.53,311.11L253.42,366L250.7,366Z" fill="#f58a8a" shape-rendering="crispEdges"/></g>
<rect x="174.7" y="311.11" width="19" height="54.89" fill="none" stroke="#e07070" stroke-width="0.9"/>
<line x1="184.2" y1="306.89" x2="184.2" y2="315.33" stroke="#333" stroke-width="0.9" />
<line x1="181.8" y1="306.89" x2="186.6" y2="306.89" stroke="#333" stroke-width="0.9" />
<line x1="181.8" y1="315.33" x2="186.6" y2="315.33" stroke="#333" stroke-width="0.9" />
<text x="184.2" y="303.79" font-size="9.5" text-anchor="middle" fill="#1a1a1a" >c</text>
<rect x="207.1" y="330.68" width="19" height="35.32" fill="#000" opacity="0.18"/>
<g clip-path="url(#cp9)"><rect x="205.5" y="329.48" width="19" height="36.52" fill="#fff"/><path d="M160.98,329.48L163.7,329.48L200.22,366L197.5,366ZM164.98,329.48L167.7,329.48L204.22,366L201.5,366ZM168.98,329.48L171.7,329.48L208.22,366L205.5,366ZM172.98,329.48L175.7,329.48L212.22,366L209.5,366ZM176.98,329.48L179.7,329.48L216.22,366L213.5,366ZM180.98,329.48L183.7,329.48L220.22,366L217.5,366ZM184.98,329.48L187.7,329.48L224.22,366L221.5,366ZM188.98,329.48L191.7,329.48L228.22,366L225.5,366ZM192.98,329.48L195.7,329.48L232.22,366L229.5,366ZM196.98,329.48L199.7,329.48L236.22,366L233.5,366ZM200.98,329.48L203.7,329.48L240.22,366L237.5,366ZM204.98,329.48L207.7,329.48L244.22,366L241.5,366ZM208.98,329.48L211.7,329.48L248.22,366L245.5,366ZM212.98,329.48L215.7,329.48L252.22,366L249.5,366ZM216.98,329.48L219.7,329.48L256.22,366L253.5,366ZM220.98,329.48L223.7,329.48L260.22,366L257.5,366ZM224.98,329.48L227.7,329.48L264.22,366L261.5,366Z" fill="#ee1010" shape-rendering="crispEdges"/></g>
<rect x="205.5" y="329.48" width="19" height="36.52" fill="none" stroke="#d00000" stroke-width="0.9"/>
<line x1="215" y1="327.16" x2="215" y2="331.8" stroke="#333" stroke-width="0.9" />
<line x1="212.6" y1="327.16" x2="217.4" y2="327.16" stroke="#333" stroke-width="0.9" />
<line x1="212.6" y1="331.8" x2="217.4" y2="331.8" stroke="#333" stroke-width="0.9" />
<text x="215" y="324.06" font-size="9.5" text-anchor="middle" fill="#1a1a1a" >b</text>
<rect x="237.9" y="329.62" width="19" height="36.38" fill="#000" opacity="0.18"/>
<g clip-path="url(#cp10)"><rect x="236.3" y="328.42" width="19" height="37.58" fill="#fff"/><path d="M190.72,328.42L193.44,328.42L231.02,366L228.3,366ZM194.72,328.42L197.44,328.42L235.02,366L232.3,366ZM198.72,328.42L201.44,328.42L239.02,366L236.3,366ZM202.72,328.42L205.44,328.42L243.02,366L240.3,366ZM206.72,328.42L209.44,328.42L247.02,366L244.3,366ZM210.72,328.42L213.44,328.42L251.02,366L248.3,366ZM214.72,328.42L217.44,328.42L255.02,366L252.3,366ZM218.72,328.42L221.44,328.42L259.02,366L256.3,366ZM222.72,328.42L225.44,328.42L263.02,366L260.3,366ZM226.72,328.42L229.44,328.42L267.02,366L264.3,366ZM230.72,328.42L233.44,328.42L271.02,366L268.3,366ZM234.72,328.42L237.44,328.42L275.02,366L272.3,366ZM238.72,328.42L241.44,328.42L279.02,366L276.3,366ZM242.72,328.42L245.44,328.42L283.02,366L280.3,366ZM246.72,328.42L249.44,328.42L287.02,366L284.3,366ZM250.72,328.42L253.44,328.42L291.02,366L288.3,366ZM254.72,328.42L257.44,328.42L295.02,366L292.3,366ZM258.72,328.42L261.44,328.42L299.02,366L296.3,366Z" fill="#c00000" shape-rendering="crispEdges"/></g>
<rect x="236.3" y="328.42" width="19" height="37.58" fill="none" stroke="#a00000" stroke-width="0.9"/>
<line x1="245.8" y1="319.13" x2="245.8" y2="337.5" stroke="#333" stroke-width="0.9" />
<line x1="243.4" y1="319.13" x2="248.2" y2="319.13" stroke="#333" stroke-width="0.9" />
<line x1="243.4" y1="337.5" x2="248.2" y2="337.5" stroke="#333" stroke-width="0.9" />
<text x="245.8" y="316.03" font-size="9.5" text-anchor="middle" fill="#1a1a1a" >b</text>
<line x1="45.6" y1="270.4" x2="45.6" y2="369" stroke="#5a5a5a" stroke-width="1.3" />
<line x1="45" y1="366" x2="261.2" y2="366" stroke="#5a5a5a" stroke-width="1.3" />
<line x1="42.8" y1="366" x2="45.6" y2="366" stroke="#5a5a5a" stroke-width="1.1" />
<line x1="42.8" y1="361.78" x2="45.6" y2="361.78" stroke="#5a5a5a" stroke-width="1.1" />
<line x1="42.8" y1="357.56" x2="45.6" y2="357.56" stroke="#5a5a5a" stroke-width="1.1" />
<line x1="42.8" y1="353.33" x2="45.6" y2="353.33" stroke="#5a5a5a" stroke-width="1.1" />
<line x1="42.8" y1="349.11" x2="45.6" y2="349.11" stroke="#5a5a5a" stroke-width="1.1" />
<line x1="42.8" y1="344.89" x2="45.6" y2="344.89" stroke="#5a5a5a" stroke-width="1.1" />
<line x1="42.8" y1="340.67" x2="45.6" y2="340.67" stroke="#5a5a5a" stroke-width="1.1" />
<line x1="42.8" y1="336.44" x2="45.6" y2="336.44" stroke="#5a5a5a" stroke-width="1.1" />
<line x1="42.8" y1="332.22" x2="45.6" y2="332.22" stroke="#5a5a5a" stroke-width="1.1" />
<line x1="42.8" y1="328" x2="45.6" y2="328" stroke="#5a5a5a" stroke-width="1.1" />
<line x1="42.8" y1="323.78" x2="45.6" y2="323.78" stroke="#5a5a5a" stroke-width="1.1" />
<line x1="42.8" y1="319.56" x2="45.6" y2="319.56" stroke="#5a5a5a" stroke-width="1.1" />
<line x1="42.8" y1="315.33" x2="45.6" y2="315.33" stroke="#5a5a5a" stroke-width="1.1" />
<line x1="42.8" y1="311.11" x2="45.6" y2="311.11" stroke="#5a5a5a" stroke-width="1.1" />
<line x1="42.8" y1="306.89" x2="45.6" y2="306.89" stroke="#5a5a5a" stroke-width="1.1" />
<line x1="42.8" y1="302.67" x2="45.6" y2="302.67" stroke="#5a5a5a" stroke-width="1.1" />
<line x1="42.8" y1="298.44" x2="45.6" y2="298.44" stroke="#5a5a5a" stroke-width="1.1" />
<line x1="42.8" y1="294.22" x2="45.6" y2="294.22" stroke="#5a5a5a" stroke-width="1.1" />
<line x1="42.8" y1="290" x2="45.6" y2="290" stroke="#5a5a5a" stroke-width="1.1" />
<line x1="42.8" y1="285.78" x2="45.6" y2="285.78" stroke="#5a5a5a" stroke-width="1.1" />
<line x1="42.8" y1="281.56" x2="45.6" y2="281.56" stroke="#5a5a5a" stroke-width="1.1" />
<line x1="42.8" y1="277.33" x2="45.6" y2="277.33" stroke="#5a5a5a" stroke-width="1.1" />
<line x1="42.8" y1="273.11" x2="45.6" y2="273.11" stroke="#5a5a5a" stroke-width="1.1" />
<text x="36.2" y="369.5" font-size="10" text-anchor="end" fill="#1a1a1a" >0</text>
<text x="36.2" y="348.39" font-size="10" text-anchor="end" fill="#1a1a1a" >10</text>
<text x="36.2" y="327.28" font-size="10" text-anchor="end" fill="#1a1a1a" >20</text>
<text x="36.2" y="306.17" font-size="10" text-anchor="end" fill="#1a1a1a" >30</text>
<text x="36.2" y="285.06" font-size="10" text-anchor="end" fill="#1a1a1a" >40</text>
<line x1="45.6" y1="366" x2="45.6" y2="369" stroke="#5a5a5a" stroke-width="1.1" />
<line x1="76.4" y1="366" x2="76.4" y2="369" stroke="#5a5a5a" stroke-width="1.1" />
<line x1="107.2" y1="366" x2="107.2" y2="369" stroke="#5a5a5a" stroke-width="1.1" />
<line x1="138" y1="366" x2="138" y2="369" stroke="#5a5a5a" stroke-width="1.1" />
<line x1="168.8" y1="366" x2="168.8" y2="369" stroke="#5a5a5a" stroke-width="1.1" />
<line x1="199.6" y1="366" x2="199.6" y2="369" stroke="#5a5a5a" stroke-width="1.1" />
<line x1="230.4" y1="366" x2="230.4" y2="369" stroke="#5a5a5a" stroke-width="1.1" />
<line x1="261.2" y1="366" x2="261.2" y2="369" stroke="#5a5a5a" stroke-width="1.1" />
<text x="61" y="381.8" font-size="10" text-anchor="middle" fill="#1a1a1a" >WPI</text>
<text x="91.8" y="381.8" font-size="10" text-anchor="middle" fill="#1a1a1a" >GF</text>
<text x="91.8" y="394.2" font-size="10" text-anchor="middle" fill="#1a1a1a" >0.1%</text>
<text x="122.6" y="381.8" font-size="10" text-anchor="middle" fill="#1a1a1a" >GF</text>
<text x="122.6" y="394.2" font-size="10" text-anchor="middle" fill="#1a1a1a" >0.5%</text>
<text x="153.4" y="381.8" font-size="10" text-anchor="middle" fill="#1a1a1a" >GF</text>
<text x="153.4" y="394.2" font-size="10" text-anchor="middle" fill="#1a1a1a" >1%</text>
<text x="184.2" y="381.8" font-size="10" text-anchor="middle" fill="#1a1a1a" >BF</text>
<text x="184.2" y="394.2" font-size="10" text-anchor="middle" fill="#1a1a1a" >0.1%</text>
<text x="215" y="381.8" font-size="10" text-anchor="middle" fill="#1a1a1a" >BF</text>
<text x="215" y="394.2" font-size="10" text-anchor="middle" fill="#1a1a1a" >0.5%</text>
<text x="245.8" y="381.8" font-size="10" text-anchor="middle" fill="#1a1a1a" >BF</text>
<text x="245.8" y="394.2" font-size="10" text-anchor="middle" fill="#1a1a1a" >1%</text>
<path d="M49,287.6 L49,286 Q49,284.4 50.6,284.4 L72.1,284.4 Q73.7,284.4 73.7,286 L73.7,287.6" stroke="#3a3a3a" stroke-width="1.0" fill="none" />
<text x="61.35" y="280.7" font-size="10.2" text-anchor="middle" fill="#1a1a1a" >A</text>
<path d="M81,287.8 L81,286.2 Q81,284.6 82.6,284.6 L162.4,284.6 Q164,284.6 164,286.2 L164,287.8" stroke="#3a3a3a" stroke-width="1.0" fill="none" />
<text x="122.5" y="280.7" font-size="10.2" text-anchor="middle" fill="#1a1a1a" >B</text>
<path d="M173.4,287.8 L173.4,286.2 Q173.4,284.6 175,284.6 L253.6,284.6 Q255.2,284.6 255.2,286.2 L255.2,287.8" stroke="#3a3a3a" stroke-width="1.0" fill="none" />
<text x="214.3" y="280.7" font-size="10.2" text-anchor="middle" fill="#1a1a1a" >B</text>
<text transform="translate(17.6,346.56) rotate(-90)" font-size="10" fill="#1a1a1a">k</text>
<text transform="translate(19.9,341.12) rotate(-90)" font-size="6.35" fill="#1a1a1a">GASTRIC</text>
<text transform="translate(17.6,307) rotate(-90)" font-size="10" fill="#1a1a1a">(</text>
<text transform="translate(17.6,303.56) rotate(-90)" font-size="10" fill="#1a1a1a">h</text>
<text transform="translate(13.7,297.26) rotate(-90)" font-size="6" fill="#1a1a1a">&#8722;1</text>
<text transform="translate(17.6,288.9) rotate(-90)" font-size="10" fill="#1a1a1a">)</text>
<text x="7.8" y="276.3" font-size="17" text-anchor="start" fill="#1a1a1a" >C</text>
<rect x="325.5" y="270.6" width="216.3" height="94.3" fill="#fff" stroke="#858585" stroke-width="1.6" rx="1.5" filter="url(#sh)"/>
<rect x="333.05" y="363.59" width="19" height="1.31" fill="#000" opacity="0.18"/>
<rect x="331.45" y="362.39" width="19" height="2.51" fill="#6b6b6b" stroke="#404040" stroke-width="0.9"/>
<rect x="332.05" y="362.89" width="17.8" height="3.2" fill="url(#hl)"/>
<line x1="340.95" y1="360.29" x2="340.95" y2="364.27" stroke="#333" stroke-width="0.9" />
<line x1="338.55" y1="360.29" x2="343.35" y2="360.29" stroke="#333" stroke-width="0.9" />
<line x1="338.55" y1="364.27" x2="343.35" y2="364.27" stroke="#333" stroke-width="0.9" />
<text x="340.95" y="357.19" font-size="9.5" text-anchor="middle" fill="#1a1a1a" >a</text>
<rect x="363.95" y="328.38" width="19" height="36.52" fill="#000" opacity="0.18"/>
<rect x="362.35" y="327.18" width="19" height="37.72" fill="#45a8f2" stroke="#1a6aa8" stroke-width="0.9"/>
<rect x="362.95" y="327.68" width="17.8" height="3.2" fill="url(#hl)"/>
<line x1="371.85" y1="324.25" x2="371.85" y2="330.11" stroke="#333" stroke-width="0.9" />
<line x1="369.45" y1="324.25" x2="374.25" y2="324.25" stroke="#333" stroke-width="0.9" />
<line x1="369.45" y1="330.11" x2="374.25" y2="330.11" stroke="#333" stroke-width="0.9" />
<text x="371.85" y="321.15" font-size="9.5" text-anchor="middle" fill="#1a1a1a" >bc</text>
<rect x="394.85" y="317.9" width="19" height="47" fill="#000" opacity="0.18"/>
<rect x="393.25" y="316.7" width="19" height="48.2" fill="#1c88e4" stroke="#0b5a9e" stroke-width="0.9"/>
<rect x="393.85" y="317.2" width="17.8" height="3.2" fill="url(#hl)"/>
<line x1="402.75" y1="313.35" x2="402.75" y2="319.64" stroke="#333" stroke-width="0.9" />
<line x1="400.35" y1="313.35" x2="405.15" y2="313.35" stroke="#333" stroke-width="0.9" />
<line x1="400.35" y1="319.64" x2="405.15" y2="319.64" stroke="#333" stroke-width="0.9" />
<text x="402.75" y="310.25" font-size="9.5" text-anchor="middle" fill="#1a1a1a" >c</text>
<rect x="425.75" y="301.14" width="19" height="63.76" fill="#000" opacity="0.18"/>
<rect x="424.15" y="299.94" width="19" height="64.96" fill="#0a6bc2" stroke="#064a88" stroke-width="0.9"/>
<rect x="424.75" y="300.44" width="17.8" height="3.2" fill="url(#hl)"/>
<line x1="433.65" y1="296.17" x2="433.65" y2="303.29" stroke="#333" stroke-width="0.9" />
<line x1="431.25" y1="296.17" x2="436.05" y2="296.17" stroke="#333" stroke-width="0.9" />
<line x1="431.25" y1="303.29" x2="436.05" y2="303.29" stroke="#333" stroke-width="0.9" />
<text x="433.65" y="293.07" font-size="9.5" text-anchor="middle" fill="#1a1a1a" >d</text>
<rect x="456.65" y="335.71" width="19" height="29.19" fill="#000" opacity="0.18"/>
<g clip-path="url(#cp11)"><rect x="455.05" y="334.51" width="19" height="30.39" fill="#fff"/><path d="M416.66,334.51L419.38,334.51L449.77,364.9L447.05,364.9ZM420.66,334.51L423.38,334.51L453.77,364.9L451.05,364.9ZM424.66,334.51L427.38,334.51L457.77,364.9L455.05,364.9ZM428.66,334.51L431.38,334.51L461.77,364.9L459.05,364.9ZM432.66,334.51L435.38,334.51L465.77,364.9L463.05,364.9ZM436.66,334.51L439.38,334.51L469.77,364.9L467.05,364.9ZM440.66,334.51L443.38,334.51L473.77,364.9L471.05,364.9ZM444.66,334.51L447.38,334.51L477.77,364.9L475.05,364.9ZM448.66,334.51L451.38,334.51L481.77,364.9L479.05,364.9ZM452.66,334.51L455.38,334.51L485.77,364.9L483.05,364.9ZM456.66,334.51L459.38,334.51L489.77,364.9L487.05,364.9ZM460.66,334.51L463.38,334.51L493.77,364.9L491.05,364.9ZM464.66,334.51L467.38,334.51L497.77,364.9L495.05,364.9ZM468.66,334.51L471.38,334.51L501.77,364.9L499.05,364.9ZM472.66,334.51L475.38,334.51L505.77,364.9L503.05,364.9ZM476.66,334.51L479.38,334.51L509.77,364.9L507.05,364.9Z" fill="#52aef0" shape-rendering="crispEdges"/></g>
<rect x="455.05" y="334.51" width="19" height="30.39" fill="none" stroke="#3090d8" stroke-width="0.9"/>
<line x1="464.55" y1="328.65" x2="464.55" y2="340.17" stroke="#333" stroke-width="0.9" />
<line x1="462.15" y1="328.65" x2="466.95" y2="328.65" stroke="#333" stroke-width="0.9" />
<line x1="462.15" y1="340.17" x2="466.95" y2="340.17" stroke="#333" stroke-width="0.9" />
<text x="464.55" y="325.55" font-size="9.5" text-anchor="middle" fill="#1a1a1a" >bc</text>
<rect x="487.55" y="331.31" width="19" height="33.59" fill="#000" opacity="0.18"/>
<g clip-path="url(#cp12)"><rect x="485.95" y="330.11" width="19" height="34.79" fill="#fff"/><path d="M443.16,330.11L445.88,330.11L480.67,364.9L477.95,364.9ZM447.16,330.11L449.88,330.11L484.67,364.9L481.95,364.9ZM451.16,330.11L453.88,330.11L488.67,364.9L485.95,364.9ZM455.16,330.11L457.88,330.11L492.67,364.9L489.95,364.9ZM459.16,330.11L461.88,330.11L496.67,364.9L493.95,364.9ZM463.16,330.11L465.88,330.11L500.67,364.9L497.95,364.9ZM467.16,330.11L469.88,330.11L504.67,364.9L501.95,364.9ZM471.16,330.11L473.88,330.11L508.67,364.9L505.95,364.9ZM475.16,330.11L477.88,330.11L512.67,364.9L509.95,364.9ZM479.16,330.11L481.88,330.11L516.67,364.9L513.95,364.9ZM483.16,330.11L485.88,330.11L520.67,364.9L517.95,364.9ZM487.16,330.11L489.88,330.11L524.67,364.9L521.95,364.9ZM491.16,330.11L493.88,330.11L528.67,364.9L525.95,364.9ZM495.16,330.11L497.88,330.11L532.67,364.9L529.95,364.9ZM499.16,330.11L501.88,330.11L536.67,364.9L533.95,364.9ZM503.16,330.11L505.88,330.11L540.67,364.9L537.95,364.9ZM507.16,330.11L509.88,330.11L544.67,364.9L541.95,364.9Z" fill="#1f8ae6" shape-rendering="crispEdges"/></g>
<rect x="485.95" y="330.11" width="19" height="34.79" fill="none" stroke="#1070c8" stroke-width="0.9"/>
<line x1="495.45" y1="327.6" x2="495.45" y2="332.63" stroke="#333" stroke-width="0.9" />
<line x1="493.05" y1="327.6" x2="497.85" y2="327.6" stroke="#333" stroke-width="0.9" />
<line x1="493.05" y1="332.63" x2="497.85" y2="332.63" stroke="#333" stroke-width="0.9" />
<text x="495.45" y="324.5" font-size="9.5" text-anchor="middle" fill="#1a1a1a" >bc</text>
<rect x="518.45" y="336.76" width="19" height="28.14" fill="#000" opacity="0.18"/>
<g clip-path="url(#cp13)"><rect x="516.85" y="335.56" width="19" height="29.34" fill="#fff"/><path d="M479.51,335.56L482.23,335.56L511.57,364.9L508.85,364.9ZM483.51,335.56L486.23,335.56L515.57,364.9L512.85,364.9ZM487.51,335.56L490.23,335.56L519.57,364.9L516.85,364.9ZM491.51,335.56L494.23,335.56L523.57,364.9L520.85,364.9ZM495.51,335.56L498.23,335.56L527.57,364.9L524.85,364.9ZM499.51,335.56L502.23,335.56L531.57,364.9L528.85,364.9ZM503.51,335.56L506.23,335.56L535.57,364.9L532.85,364.9ZM507.51,335.56L510.23,335.56L539.57,364.9L536.85,364.9ZM511.51,335.56L514.23,335.56L543.57,364.9L540.85,364.9ZM515.51,335.56L518.23,335.56L547.57,364.9L544.85,364.9ZM519.51,335.56L522.23,335.56L551.57,364.9L548.85,364.9ZM523.51,335.56L526.23,335.56L555.57,364.9L552.85,364.9ZM527.51,335.56L530.23,335.56L559.57,364.9L556.85,364.9ZM531.51,335.56L534.23,335.56L563.57,364.9L560.85,364.9ZM535.51,335.56L538.23,335.56L567.57,364.9L564.85,364.9ZM539.51,335.56L542.23,335.56L571.57,364.9L568.85,364.9Z" fill="#0b62b0" shape-rendering="crispEdges"/></g>
<rect x="516.85" y="335.56" width="19" height="29.34" fill="none" stroke="#0858a0" stroke-width="0.9"/>
<line x1="526.35" y1="326.76" x2="526.35" y2="344.36" stroke="#333" stroke-width="0.9" />
<line x1="523.95" y1="326.76" x2="528.75" y2="326.76" stroke="#333" stroke-width="0.9" />
<line x1="523.95" y1="344.36" x2="528.75" y2="344.36" stroke="#333" stroke-width="0.9" />
<text x="526.35" y="323.66" font-size="9.5" text-anchor="middle" fill="#1a1a1a" >b</text>
<line x1="325.5" y1="270" x2="325.5" y2="367.9" stroke="#5a5a5a" stroke-width="1.3" />
<line x1="324.9" y1="364.9" x2="541.8" y2="364.9" stroke="#5a5a5a" stroke-width="1.3" />
<line x1="322.7" y1="364.9" x2="325.5" y2="364.9" stroke="#5a5a5a" stroke-width="1.1" />
<line x1="322.7" y1="360.71" x2="325.5" y2="360.71" stroke="#5a5a5a" stroke-width="1.1" />
<line x1="322.7" y1="356.52" x2="325.5" y2="356.52" stroke="#5a5a5a" stroke-width="1.1" />
<line x1="322.7" y1="352.33" x2="325.5" y2="352.33" stroke="#5a5a5a" stroke-width="1.1" />
<line x1="322.7" y1="348.14" x2="325.5" y2="348.14" stroke="#5a5a5a" stroke-width="1.1" />
<line x1="322.7" y1="343.94" x2="325.5" y2="343.94" stroke="#5a5a5a" stroke-width="1.1" />
<line x1="322.7" y1="339.75" x2="325.5" y2="339.75" stroke="#5a5a5a" stroke-width="1.1" />
<line x1="322.7" y1="335.56" x2="325.5" y2="335.56" stroke="#5a5a5a" stroke-width="1.1" />
<line x1="322.7" y1="331.37" x2="325.5" y2="331.37" stroke="#5a5a5a" stroke-width="1.1" />
<line x1="322.7" y1="327.18" x2="325.5" y2="327.18" stroke="#5a5a5a" stroke-width="1.1" />
<line x1="322.7" y1="322.99" x2="325.5" y2="322.99" stroke="#5a5a5a" stroke-width="1.1" />
<line x1="322.7" y1="318.8" x2="325.5" y2="318.8" stroke="#5a5a5a" stroke-width="1.1" />
<line x1="322.7" y1="314.61" x2="325.5" y2="314.61" stroke="#5a5a5a" stroke-width="1.1" />
<line x1="322.7" y1="310.42" x2="325.5" y2="310.42" stroke="#5a5a5a" stroke-width="1.1" />
<line x1="322.7" y1="306.22" x2="325.5" y2="306.22" stroke="#5a5a5a" stroke-width="1.1" />
<line x1="322.7" y1="302.03" x2="325.5" y2="302.03" stroke="#5a5a5a" stroke-width="1.1" />
<line x1="322.7" y1="297.84" x2="325.5" y2="297.84" stroke="#5a5a5a" stroke-width="1.1" />
<line x1="322.7" y1="293.65" x2="325.5" y2="293.65" stroke="#5a5a5a" stroke-width="1.1" />
<line x1="322.7" y1="289.46" x2="325.5" y2="289.46" stroke="#5a5a5a" stroke-width="1.1" />
<line x1="322.7" y1="285.27" x2="325.5" y2="285.27" stroke="#5a5a5a" stroke-width="1.1" />
<line x1="322.7" y1="281.08" x2="325.5" y2="281.08" stroke="#5a5a5a" stroke-width="1.1" />
<line x1="322.7" y1="276.89" x2="325.5" y2="276.89" stroke="#5a5a5a" stroke-width="1.1" />
<line x1="322.7" y1="272.7" x2="325.5" y2="272.7" stroke="#5a5a5a" stroke-width="1.1" />
<text x="316.1" y="368.4" font-size="10" text-anchor="end" fill="#1a1a1a" >0</text>
<text x="316.1" y="347.44" font-size="10" text-anchor="end" fill="#1a1a1a" >10</text>
<text x="316.1" y="326.49" font-size="10" text-anchor="end" fill="#1a1a1a" >20</text>
<text x="316.1" y="305.53" font-size="10" text-anchor="end" fill="#1a1a1a" >30</text>
<text x="316.1" y="284.58" font-size="10" text-anchor="end" fill="#1a1a1a" >40</text>
<line x1="325.5" y1="364.9" x2="325.5" y2="367.9" stroke="#5a5a5a" stroke-width="1.1" />
<line x1="356.4" y1="364.9" x2="356.4" y2="367.9" stroke="#5a5a5a" stroke-width="1.1" />
<line x1="387.3" y1="364.9" x2="387.3" y2="367.9" stroke="#5a5a5a" stroke-width="1.1" />
<line x1="418.2" y1="364.9" x2="418.2" y2="367.9" stroke="#5a5a5a" stroke-width="1.1" />
<line x1="449.1" y1="364.9" x2="449.1" y2="367.9" stroke="#5a5a5a" stroke-width="1.1" />
<line x1="480" y1="364.9" x2="480" y2="367.9" stroke="#5a5a5a" stroke-width="1.1" />
<line x1="510.9" y1="364.9" x2="510.9" y2="367.9" stroke="#5a5a5a" stroke-width="1.1" />
<line x1="541.8" y1="364.9" x2="541.8" y2="367.9" stroke="#5a5a5a" stroke-width="1.1" />
<text x="340.95" y="380.7" font-size="10" text-anchor="middle" fill="#1a1a1a" >NaCN</text>
<text x="371.85" y="380.7" font-size="10" text-anchor="middle" fill="#1a1a1a" >GF</text>
<text x="371.85" y="393.1" font-size="10" text-anchor="middle" fill="#1a1a1a" >0.1%</text>
<text x="402.75" y="380.7" font-size="10" text-anchor="middle" fill="#1a1a1a" >GF</text>
<text x="402.75" y="393.1" font-size="10" text-anchor="middle" fill="#1a1a1a" >0.5%</text>
<text x="433.65" y="380.7" font-size="10" text-anchor="middle" fill="#1a1a1a" >GF</text>
<text x="433.65" y="393.1" font-size="10" text-anchor="middle" fill="#1a1a1a" >1%</text>
<text x="464.55" y="380.7" font-size="10" text-anchor="middle" fill="#1a1a1a" >BF</text>
<text x="464.55" y="393.1" font-size="10" text-anchor="middle" fill="#1a1a1a" >0.1%</text>
<text x="495.45" y="380.7" font-size="10" text-anchor="middle" fill="#1a1a1a" >BF</text>
<text x="495.45" y="393.1" font-size="10" text-anchor="middle" fill="#1a1a1a" >0.5%</text>
<text x="526.35" y="380.7" font-size="10" text-anchor="middle" fill="#1a1a1a" >BF</text>
<text x="526.35" y="393.1" font-size="10" text-anchor="middle" fill="#1a1a1a" >1%</text>
<path d="M330.5,285.1 L330.5,283.5 Q330.5,281.9 332.1,281.9 L350.2,281.9 Q351.8,281.9 351.8,283.5 L351.8,285.1" stroke="#3a3a3a" stroke-width="1.0" fill="none" />
<text x="341.15" y="280.2" font-size="10.2" text-anchor="middle" fill="#1a1a1a" >A</text>
<path d="M362.3,285.6 L362.3,284 Q362.3,282.4 363.9,282.4 L441.9,282.4 Q443.5,282.4 443.5,284 L443.5,285.6" stroke="#3a3a3a" stroke-width="1.0" fill="none" />
<text x="402.9" y="280.4" font-size="10.2" text-anchor="middle" fill="#1a1a1a" >C</text>
<path d="M455.1,285.8 L455.1,284.2 Q455.1,282.6 456.7,282.6 L535.5,282.6 Q537.1,282.6 537.1,284.2 L537.1,285.8" stroke="#3a3a3a" stroke-width="1.0" fill="none" />
<text x="496.1" y="280.4" font-size="10.2" text-anchor="middle" fill="#1a1a1a" >B</text>
<text transform="translate(294.3,343.76) rotate(-90)" font-size="10" fill="#1a1a1a">k</text>
<text transform="translate(296.6,338.22) rotate(-90)" font-size="6.35" fill="#1a1a1a">GASTRIC</text>
<text transform="translate(294.3,303.5) rotate(-90)" font-size="10" fill="#1a1a1a">(</text>
<text transform="translate(294.3,300.06) rotate(-90)" font-size="10" fill="#1a1a1a">h</text>
<text transform="translate(290.4,294.56) rotate(-90)" font-size="6" fill="#1a1a1a">&#8722;1</text>
<text transform="translate(294.3,286.2) rotate(-90)" font-size="10" fill="#1a1a1a">)</text>
<text x="291.3" y="281.6" font-size="17" text-anchor="start" fill="#1a1a1a" >D</text>
<rect x="44.6" y="403.5" width="216.5" height="95.3" fill="#fff" stroke="#858585" stroke-width="1.6" rx="1.5" filter="url(#sh)"/>
<rect x="52.16" y="429.21" width="19" height="69.59" fill="#000" opacity="0.18"/>
<rect x="50.56" y="428.01" width="19" height="70.79" fill="#a6a6a6" stroke="#7f7f7f" stroke-width="0.9"/>
<rect x="51.16" y="428.51" width="17.8" height="3.2" fill="url(#hl)"/>
<line x1="60.06" y1="427.19" x2="60.06" y2="428.82" stroke="#333" stroke-width="0.9" />
<line x1="57.66" y1="427.19" x2="62.46" y2="427.19" stroke="#333" stroke-width="0.9" />
<line x1="57.66" y1="428.82" x2="62.46" y2="428.82" stroke="#333" stroke-width="0.9" />
<text x="60.06" y="424.09" font-size="9.5" text-anchor="middle" fill="#1a1a1a" >b</text>
<rect x="83.09" y="478.22" width="19" height="20.58" fill="#000" opacity="0.18"/>
<rect x="81.49" y="477.02" width="19" height="21.78" fill="#ff7575" stroke="#c04545" stroke-width="0.9"/>
<rect x="82.09" y="477.52" width="17.8" height="3.2" fill="url(#hl)"/>
<line x1="90.99" y1="471.57" x2="90.99" y2="482.46" stroke="#333" stroke-width="0.9" />
<line x1="88.59" y1="471.57" x2="93.39" y2="471.57" stroke="#333" stroke-width="0.9" />
<line x1="88.59" y1="482.46" x2="93.39" y2="482.46" stroke="#333" stroke-width="0.9" />
<text x="90.99" y="468.47" font-size="9.5" text-anchor="middle" fill="#1a1a1a" >a</text>
<rect x="114.02" y="467.33" width="19" height="31.47" fill="#000" opacity="0.18"/>
<rect x="112.42" y="466.13" width="19" height="32.67" fill="#f20000" stroke="#a00000" stroke-width="0.9"/>
<rect x="113.02" y="466.63" width="17.8" height="3.2" fill="url(#hl)"/>
<line x1="121.92" y1="445.16" x2="121.92" y2="486.55" stroke="#333" stroke-width="0.9" />
<line x1="119.52" y1="445.16" x2="124.32" y2="445.16" stroke="#333" stroke-width="0.9" />
<line x1="119.52" y1="486.55" x2="124.32" y2="486.55" stroke="#333" stroke-width="0.9" />
<text x="121.92" y="442.06" font-size="9.5" text-anchor="middle" fill="#1a1a1a" >a</text>
<rect x="144.95" y="468.14" width="19" height="30.66" fill="#000" opacity="0.18"/>
<rect x="143.35" y="466.94" width="19" height="31.86" fill="#c40000" stroke="#800000" stroke-width="0.9"/>
<rect x="143.95" y="467.44" width="17.8" height="3.2" fill="url(#hl)"/>
<line x1="152.85" y1="460.41" x2="152.85" y2="473.21" stroke="#333" stroke-width="0.9" />
<line x1="150.45" y1="460.41" x2="155.25" y2="460.41" stroke="#333" stroke-width="0.9" />
<line x1="150.45" y1="473.21" x2="155.25" y2="473.21" stroke="#333" stroke-width="0.9" />
<text x="152.85" y="457.31" font-size="9.5" text-anchor="middle" fill="#1a1a1a" >a</text>
<rect x="175.88" y="470.05" width="19" height="28.75" fill="#000" opacity="0.18"/>
<g clip-path="url(#cp14)"><rect x="174.28" y="468.85" width="19" height="29.95" fill="#fff"/><path d="M136.33,468.85L139.05,468.85L169,498.8L166.28,498.8ZM140.33,468.85L143.05,468.85L173,498.8L170.28,498.8ZM144.33,468.85L147.05,468.85L177,498.8L174.28,498.8ZM148.33,468.85L151.05,468.85L181,498.8L178.28,498.8ZM152.33,468.85L155.05,468.85L185,498.8L182.28,498.8ZM156.33,468.85L159.05,468.85L189,498.8L186.28,498.8ZM160.33,468.85L163.05,468.85L193,498.8L190.28,498.8ZM164.33,468.85L167.05,468.85L197,498.8L194.28,498.8ZM168.33,468.85L171.05,468.85L201,498.8L198.28,498.8ZM172.33,468.85L175.05,468.85L205,498.8L202.28,498.8ZM176.33,468.85L179.05,468.85L209,498.8L206.28,498.8ZM180.33,468.85L183.05,468.85L213,498.8L210.28,498.8ZM184.33,468.85L187.05,468.85L217,498.8L214.28,498.8ZM188.33,468.85L191.05,468.85L221,498.8L218.28,498.8ZM192.33,468.85L195.05,468.85L225,498.8L222.28,498.8ZM196.33,468.85L199.05,468.85L229,498.8L226.28,498.8Z" fill="#f58a8a" shape-rendering="crispEdges"/></g>
<rect x="174.28" y="468.85" width="19" height="29.95" fill="none" stroke="#e07070" stroke-width="0.9"/>
<line x1="183.78" y1="457.96" x2="183.78" y2="479.74" stroke="#333" stroke-width="0.9" />
<line x1="181.38" y1="457.96" x2="186.18" y2="457.96" stroke="#333" stroke-width="0.9" />
<line x1="181.38" y1="479.74" x2="186.18" y2="479.74" stroke="#333" stroke-width="0.9" />
<text x="183.78" y="454.86" font-size="9.5" text-anchor="middle" fill="#1a1a1a" >a</text>
<rect x="206.81" y="464.33" width="19" height="34.47" fill="#000" opacity="0.18"/>
<g clip-path="url(#cp15)"><rect x="205.21" y="463.13" width="19" height="35.67" fill="#fff"/><path d="M161.54,463.13L164.26,463.13L199.93,498.8L197.21,498.8ZM165.54,463.13L168.26,463.13L203.93,498.8L201.21,498.8ZM169.54,463.13L172.26,463.13L207.93,498.8L205.21,498.8ZM173.54,463.13L176.26,463.13L211.93,498.8L209.21,498.8ZM177.54,463.13L180.26,463.13L215.93,498.8L213.21,498.8ZM181.54,463.13L184.26,463.13L219.93,498.8L217.21,498.8ZM185.54,463.13L188.26,463.13L223.93,498.8L221.21,498.8ZM189.54,463.13L192.26,463.13L227.93,498.8L225.21,498.8ZM193.54,463.13L196.26,463.13L231.93,498.8L229.21,498.8ZM197.54,463.13L200.26,463.13L235.93,498.8L233.21,498.8ZM201.54,463.13L204.26,463.13L239.93,498.8L237.21,498.8ZM205.54,463.13L208.26,463.13L243.93,498.8L241.21,498.8ZM209.54,463.13L212.26,463.13L247.93,498.8L245.21,498.8ZM213.54,463.13L216.26,463.13L251.93,498.8L249.21,498.8ZM217.54,463.13L220.26,463.13L255.93,498.8L253.21,498.8ZM221.54,463.13L224.26,463.13L259.93,498.8L257.21,498.8ZM225.54,463.13L228.26,463.13L263.93,498.8L261.21,498.8Z" fill="#ee1010" shape-rendering="crispEdges"/></g>
<rect x="205.21" y="463.13" width="19" height="35.67" fill="none" stroke="#d00000" stroke-width="0.9"/>
<line x1="214.71" y1="462.04" x2="214.71" y2="464.22" stroke="#333" stroke-width="0.9" />
<line x1="212.31" y1="462.04" x2="217.11" y2="462.04" stroke="#333" stroke-width="0.9" />
<line x1="212.31" y1="464.22" x2="217.11" y2="464.22" stroke="#333" stroke-width="0.9" />
<text x="214.71" y="458.94" font-size="9.5" text-anchor="middle" fill="#1a1a1a" >a</text>
<rect x="237.74" y="452.89" width="19" height="45.91" fill="#000" opacity="0.18"/>
<g clip-path="url(#cp16)"><rect x="236.14" y="451.69" width="19" height="47.11" fill="#fff"/><path d="M181.03,451.69L183.75,451.69L230.86,498.8L228.14,498.8ZM185.03,451.69L187.75,451.69L234.86,498.8L232.14,498.8ZM189.03,451.69L191.75,451.69L238.86,498.8L236.14,498.8ZM193.03,451.69L195.75,451.69L242.86,498.8L240.14,498.8ZM197.03,451.69L199.75,451.69L246.86,498.8L244.14,498.8ZM201.03,451.69L203.75,451.69L250.86,498.8L248.14,498.8ZM205.03,451.69L207.75,451.69L254.86,498.8L252.14,498.8ZM209.03,451.69L211.75,451.69L258.86,498.8L256.14,498.8ZM213.03,451.69L215.75,451.69L262.86,498.8L260.14,498.8ZM217.03,451.69L219.75,451.69L266.86,498.8L264.14,498.8ZM221.03,451.69L223.75,451.69L270.86,498.8L268.14,498.8ZM225.03,451.69L227.75,451.69L274.86,498.8L272.14,498.8ZM229.03,451.69L231.75,451.69L278.86,498.8L276.14,498.8ZM233.03,451.69L235.75,451.69L282.86,498.8L280.14,498.8ZM237.03,451.69L239.75,451.69L286.86,498.8L284.14,498.8ZM241.03,451.69L243.75,451.69L290.86,498.8L288.14,498.8ZM245.03,451.69L247.75,451.69L294.86,498.8L292.14,498.8ZM249.03,451.69L251.75,451.69L298.86,498.8L296.14,498.8ZM253.03,451.69L255.75,451.69L302.86,498.8L300.14,498.8ZM257.03,451.69L259.75,451.69L306.86,498.8L304.14,498.8Z" fill="#c00000" shape-rendering="crispEdges"/></g>
<rect x="236.14" y="451.69" width="19" height="47.11" fill="none" stroke="#a00000" stroke-width="0.9"/>
<line x1="245.64" y1="441.62" x2="245.64" y2="460.68" stroke="#333" stroke-width="0.9" />
<line x1="243.24" y1="441.62" x2="248.04" y2="441.62" stroke="#333" stroke-width="0.9" />
<line x1="243.24" y1="460.68" x2="248.04" y2="460.68" stroke="#333" stroke-width="0.9" />
<text x="245.64" y="438.52" font-size="9.5" text-anchor="middle" fill="#1a1a1a" >ab</text>
<line x1="44.6" y1="402.9" x2="44.6" y2="501.8" stroke="#5a5a5a" stroke-width="1.3" />
<line x1="44" y1="498.8" x2="261.1" y2="498.8" stroke="#5a5a5a" stroke-width="1.3" />
<line x1="41.8" y1="498.8" x2="44.6" y2="498.8" stroke="#5a5a5a" stroke-width="1.1" />
<line x1="41.8" y1="493.35" x2="44.6" y2="493.35" stroke="#5a5a5a" stroke-width="1.1" />
<line x1="41.8" y1="487.91" x2="44.6" y2="487.91" stroke="#5a5a5a" stroke-width="1.1" />
<line x1="41.8" y1="482.46" x2="44.6" y2="482.46" stroke="#5a5a5a" stroke-width="1.1" />
<line x1="41.8" y1="477.02" x2="44.6" y2="477.02" stroke="#5a5a5a" stroke-width="1.1" />
<line x1="41.8" y1="471.57" x2="44.6" y2="471.57" stroke="#5a5a5a" stroke-width="1.1" />
<line x1="41.8" y1="466.13" x2="44.6" y2="466.13" stroke="#5a5a5a" stroke-width="1.1" />
<line x1="41.8" y1="460.68" x2="44.6" y2="460.68" stroke="#5a5a5a" stroke-width="1.1" />
<line x1="41.8" y1="455.23" x2="44.6" y2="455.23" stroke="#5a5a5a" stroke-width="1.1" />
<line x1="41.8" y1="449.79" x2="44.6" y2="449.79" stroke="#5a5a5a" stroke-width="1.1" />
<line x1="41.8" y1="444.34" x2="44.6" y2="444.34" stroke="#5a5a5a" stroke-width="1.1" />
<line x1="41.8" y1="438.9" x2="44.6" y2="438.9" stroke="#5a5a5a" stroke-width="1.1" />
<line x1="41.8" y1="433.45" x2="44.6" y2="433.45" stroke="#5a5a5a" stroke-width="1.1" />
<line x1="41.8" y1="428.01" x2="44.6" y2="428.01" stroke="#5a5a5a" stroke-width="1.1" />
<line x1="41.8" y1="422.56" x2="44.6" y2="422.56" stroke="#5a5a5a" stroke-width="1.1" />
<line x1="41.8" y1="417.11" x2="44.6" y2="417.11" stroke="#5a5a5a" stroke-width="1.1" />
<line x1="41.8" y1="411.67" x2="44.6" y2="411.67" stroke="#5a5a5a" stroke-width="1.1" />
<line x1="41.8" y1="406.22" x2="44.6" y2="406.22" stroke="#5a5a5a" stroke-width="1.1" />
<text x="35.2" y="502.3" font-size="10" text-anchor="end" fill="#1a1a1a" >0</text>
<text x="35.2" y="475.07" font-size="10" text-anchor="end" fill="#1a1a1a" >1</text>
<text x="35.2" y="447.84" font-size="10" text-anchor="end" fill="#1a1a1a" >2</text>
<text x="35.2" y="420.61" font-size="10" text-anchor="end" fill="#1a1a1a" >3</text>
<line x1="44.6" y1="498.8" x2="44.6" y2="501.8" stroke="#5a5a5a" stroke-width="1.1" />
<line x1="75.53" y1="498.8" x2="75.53" y2="501.8" stroke="#5a5a5a" stroke-width="1.1" />
<line x1="106.46" y1="498.8" x2="106.46" y2="501.8" stroke="#5a5a5a" stroke-width="1.1" />
<line x1="137.39" y1="498.8" x2="137.39" y2="501.8" stroke="#5a5a5a" stroke-width="1.1" />
<line x1="168.31" y1="498.8" x2="168.31" y2="501.8" stroke="#5a5a5a" stroke-width="1.1" />
<line x1="199.24" y1="498.8" x2="199.24" y2="501.8" stroke="#5a5a5a" stroke-width="1.1" />
<line x1="230.17" y1="498.8" x2="230.17" y2="501.8" stroke="#5a5a5a" stroke-width="1.1" />
<line x1="261.1" y1="498.8" x2="261.1" y2="501.8" stroke="#5a5a5a" stroke-width="1.1" />
<text x="60.06" y="514.6" font-size="10" text-anchor="middle" fill="#1a1a1a" >WPI</text>
<text x="90.99" y="514.6" font-size="10" text-anchor="middle" fill="#1a1a1a" >GF</text>
<text x="90.99" y="527" font-size="10" text-anchor="middle" fill="#1a1a1a" >0.1%</text>
<text x="121.92" y="514.6" font-size="10" text-anchor="middle" fill="#1a1a1a" >GF</text>
<text x="121.92" y="527" font-size="10" text-anchor="middle" fill="#1a1a1a" >0.5%</text>
<text x="152.85" y="514.6" font-size="10" text-anchor="middle" fill="#1a1a1a" >GF</text>
<text x="152.85" y="527" font-size="10" text-anchor="middle" fill="#1a1a1a" >1%</text>
<text x="183.78" y="514.6" font-size="10" text-anchor="middle" fill="#1a1a1a" >BF</text>
<text x="183.78" y="527" font-size="10" text-anchor="middle" fill="#1a1a1a" >0.1%</text>
<text x="214.71" y="514.6" font-size="10" text-anchor="middle" fill="#1a1a1a" >BF</text>
<text x="214.71" y="527" font-size="10" text-anchor="middle" fill="#1a1a1a" >0.5%</text>
<text x="245.64" y="514.6" font-size="10" text-anchor="middle" fill="#1a1a1a" >BF</text>
<text x="245.64" y="527" font-size="10" text-anchor="middle" fill="#1a1a1a" >1%</text>
<path d="M49.4,417.5 L49.4,415.9 Q49.4,414.3 51,414.3 L67.9,414.3 Q69.5,414.3 69.5,415.9 L69.5,417.5" stroke="#3a3a3a" stroke-width="1.0" fill="none" />
<text x="59.45" y="412.6" font-size="10.2" text-anchor="middle" fill="#1a1a1a" >B</text>
<path d="M82.5,416.9 L82.5,415.3 Q82.5,413.7 84.1,413.7 L162.5,413.7 Q164.1,413.7 164.1,415.3 L164.1,416.9" stroke="#3a3a3a" stroke-width="1.0" fill="none" />
<text x="123.3" y="412.3" font-size="10.2" text-anchor="middle" fill="#1a1a1a" >A</text>
<path d="M172.9,416.9 L172.9,415.3 Q172.9,413.7 174.5,413.7 L253.1,413.7 Q254.7,413.7 254.7,415.3 L254.7,416.9" stroke="#3a3a3a" stroke-width="1.0" fill="none" />
<text x="213.8" y="412.3" font-size="10.2" text-anchor="middle" fill="#1a1a1a" >A</text>
<text transform="translate(17.6,484.46) rotate(-90)" font-size="10" fill="#1a1a1a">k</text>
<text transform="translate(19.9,477.99) rotate(-90)" font-size="5.75" fill="#1a1a1a">INTESTINAL</text>
<text transform="translate(17.6,438.6) rotate(-90)" font-size="10" fill="#1a1a1a">(</text>
<text transform="translate(17.6,435.56) rotate(-90)" font-size="10" fill="#1a1a1a">h</text>
<text transform="translate(13.7,429.66) rotate(-90)" font-size="6" fill="#1a1a1a">&#8722;1</text>
<text transform="translate(17.6,421.3) rotate(-90)" font-size="10" fill="#1a1a1a">)</text>
<text x="10.9" y="411.3" font-size="17" text-anchor="start" fill="#1a1a1a" >E</text>
<rect x="325.7" y="402.7" width="216.1" height="94.9" fill="#fff" stroke="#858585" stroke-width="1.6" rx="1.5" filter="url(#sh)"/>
<rect x="333.24" y="441.05" width="19" height="56.55" fill="#000" opacity="0.18"/>
<rect x="331.64" y="439.85" width="19" height="57.75" fill="#6b6b6b" stroke="#404040" stroke-width="0.9"/>
<rect x="332.24" y="440.35" width="17.8" height="3.2" fill="url(#hl)"/>
<line x1="341.14" y1="433.88" x2="341.14" y2="445.27" stroke="#333" stroke-width="0.9" />
<line x1="338.74" y1="433.88" x2="343.54" y2="433.88" stroke="#333" stroke-width="0.9" />
<line x1="338.74" y1="445.27" x2="343.54" y2="445.27" stroke="#333" stroke-width="0.9" />
<text x="341.14" y="430.78" font-size="9.5" text-anchor="middle" fill="#1a1a1a" >b</text>
<rect x="364.11" y="481.72" width="19" height="15.88" fill="#000" opacity="0.18"/>
<rect x="362.51" y="480.52" width="19" height="17.08" fill="#45a8f2" stroke="#1a6aa8" stroke-width="0.9"/>
<rect x="363.11" y="481.02" width="17.8" height="3.2" fill="url(#hl)"/>
<line x1="372.01" y1="478.08" x2="372.01" y2="482.69" stroke="#333" stroke-width="0.9" />
<line x1="369.61" y1="478.08" x2="374.41" y2="478.08" stroke="#333" stroke-width="0.9" />
<line x1="369.61" y1="482.69" x2="374.41" y2="482.69" stroke="#333" stroke-width="0.9" />
<text x="372.01" y="474.98" font-size="9.5" text-anchor="middle" fill="#1a1a1a" >a</text>
<rect x="394.98" y="483.34" width="19" height="14.26" fill="#000" opacity="0.18"/>
<rect x="393.38" y="482.14" width="19" height="15.46" fill="#1c88e4" stroke="#0b5a9e" stroke-width="0.9"/>
<rect x="393.98" y="482.64" width="17.8" height="3.2" fill="url(#hl)"/>
<line x1="402.88" y1="480.25" x2="402.88" y2="484.04" stroke="#333" stroke-width="0.9" />
<line x1="400.48" y1="480.25" x2="405.28" y2="480.25" stroke="#333" stroke-width="0.9" />
<line x1="400.48" y1="484.04" x2="405.28" y2="484.04" stroke="#333" stroke-width="0.9" />
<text x="402.88" y="477.15" font-size="9.5" text-anchor="middle" fill="#1a1a1a" >a</text>
<rect x="425.85" y="479.55" width="19" height="18.05" fill="#000" opacity="0.18"/>
<rect x="424.25" y="478.35" width="19" height="19.25" fill="#0a6bc2" stroke="#064a88" stroke-width="0.9"/>
<rect x="424.85" y="478.85" width="17.8" height="3.2" fill="url(#hl)"/>
<line x1="433.75" y1="477.26" x2="433.75" y2="479.43" stroke="#333" stroke-width="0.9" />
<line x1="431.35" y1="477.26" x2="436.15" y2="477.26" stroke="#333" stroke-width="0.9" />
<line x1="431.35" y1="479.43" x2="436.15" y2="479.43" stroke="#333" stroke-width="0.9" />
<text x="433.75" y="474.16" font-size="9.5" text-anchor="middle" fill="#1a1a1a" >a</text>
<rect x="456.72" y="474.13" width="19" height="23.47" fill="#000" opacity="0.18"/>
<g clip-path="url(#cp17)"><rect x="455.12" y="472.93" width="19" height="24.67" fill="#fff"/><path d="M422.45,472.93L425.17,472.93L449.84,497.6L447.12,497.6ZM426.45,472.93L429.17,472.93L453.84,497.6L451.12,497.6ZM430.45,472.93L433.17,472.93L457.84,497.6L455.12,497.6ZM434.45,472.93L437.17,472.93L461.84,497.6L459.12,497.6ZM438.45,472.93L441.17,472.93L465.84,497.6L463.12,497.6ZM442.45,472.93L445.17,472.93L469.84,497.6L467.12,497.6ZM446.45,472.93L449.17,472.93L473.84,497.6L471.12,497.6ZM450.45,472.93L453.17,472.93L477.84,497.6L475.12,497.6ZM454.45,472.93L457.17,472.93L481.84,497.6L479.12,497.6ZM458.45,472.93L461.17,472.93L485.84,497.6L483.12,497.6ZM462.45,472.93L465.17,472.93L489.84,497.6L487.12,497.6ZM466.45,472.93L469.17,472.93L493.84,497.6L491.12,497.6ZM470.45,472.93L473.17,472.93L497.84,497.6L495.12,497.6ZM474.45,472.93L477.17,472.93L501.84,497.6L499.12,497.6Z" fill="#52aef0" shape-rendering="crispEdges"/></g>
<rect x="455.12" y="472.93" width="19" height="24.67" fill="none" stroke="#3090d8" stroke-width="0.9"/>
<line x1="464.62" y1="469.94" x2="464.62" y2="475.91" stroke="#333" stroke-width="0.9" />
<line x1="462.22" y1="469.94" x2="467.02" y2="469.94" stroke="#333" stroke-width="0.9" />
<line x1="462.22" y1="475.91" x2="467.02" y2="475.91" stroke="#333" stroke-width="0.9" />
<text x="464.62" y="466.84" font-size="9.5" text-anchor="middle" fill="#1a1a1a" >a</text>
<rect x="487.59" y="474.13" width="19" height="23.47" fill="#000" opacity="0.18"/>
<g clip-path="url(#cp18)"><rect x="485.99" y="472.93" width="19" height="24.67" fill="#fff"/><path d="M453.32,472.93L456.04,472.93L480.71,497.6L477.99,497.6ZM457.32,472.93L460.04,472.93L484.71,497.6L481.99,497.6ZM461.32,472.93L464.04,472.93L488.71,497.6L485.99,497.6ZM465.32,472.93L468.04,472.93L492.71,497.6L489.99,497.6ZM469.32,472.93L472.04,472.93L496.71,497.6L493.99,497.6ZM473.32,472.93L476.04,472.93L500.71,497.6L497.99,497.6ZM477.32,472.93L480.04,472.93L504.71,497.6L501.99,497.6ZM481.32,472.93L484.04,472.93L508.71,497.6L505.99,497.6ZM485.32,472.93L488.04,472.93L512.71,497.6L509.99,497.6ZM489.32,472.93L492.04,472.93L516.71,497.6L513.99,497.6ZM493.32,472.93L496.04,472.93L520.71,497.6L517.99,497.6ZM497.32,472.93L500.04,472.93L524.71,497.6L521.99,497.6ZM501.32,472.93L504.04,472.93L528.71,497.6L525.99,497.6ZM505.32,472.93L508.04,472.93L532.71,497.6L529.99,497.6Z" fill="#1f8ae6" shape-rendering="crispEdges"/></g>
<rect x="485.99" y="472.93" width="19" height="24.67" fill="none" stroke="#1070c8" stroke-width="0.9"/>
<line x1="495.49" y1="468.32" x2="495.49" y2="478.08" stroke="#333" stroke-width="0.9" />
<line x1="493.09" y1="468.32" x2="497.89" y2="468.32" stroke="#333" stroke-width="0.9" />
<line x1="493.09" y1="478.08" x2="497.89" y2="478.08" stroke="#333" stroke-width="0.9" />
<text x="495.49" y="465.22" font-size="9.5" text-anchor="middle" fill="#1a1a1a" >a</text>
<rect x="518.46" y="477.11" width="19" height="20.49" fill="#000" opacity="0.18"/>
<g clip-path="url(#cp19)"><rect x="516.86" y="475.91" width="19" height="21.69" fill="#fff"/><path d="M487.17,475.91L489.89,475.91L511.58,497.6L508.86,497.6ZM491.17,475.91L493.89,475.91L515.58,497.6L512.86,497.6ZM495.17,475.91L497.89,475.91L519.58,497.6L516.86,497.6ZM499.17,475.91L501.89,475.91L523.58,497.6L520.86,497.6ZM503.17,475.91L505.89,475.91L527.58,497.6L524.86,497.6ZM507.17,475.91L509.89,475.91L531.58,497.6L528.86,497.6ZM511.17,475.91L513.89,475.91L535.58,497.6L532.86,497.6ZM515.17,475.91L517.89,475.91L539.58,497.6L536.86,497.6ZM519.17,475.91L521.89,475.91L543.58,497.6L540.86,497.6ZM523.17,475.91L525.89,475.91L547.58,497.6L544.86,497.6ZM527.17,475.91L529.89,475.91L551.58,497.6L548.86,497.6ZM531.17,475.91L533.89,475.91L555.58,497.6L552.86,497.6ZM535.17,475.91L537.89,475.91L559.58,497.6L556.86,497.6ZM539.17,475.91L541.89,475.91L563.58,497.6L560.86,497.6Z" fill="#0b62b0" shape-rendering="crispEdges"/></g>
<rect x="516.86" y="475.91" width="19" height="21.69" fill="none" stroke="#0858a0" stroke-width="0.9"/>
<line x1="526.36" y1="471.03" x2="526.36" y2="480.79" stroke="#333" stroke-width="0.9" />
<line x1="523.96" y1="471.03" x2="528.76" y2="471.03" stroke="#333" stroke-width="0.9" />
<line x1="523.96" y1="480.79" x2="528.76" y2="480.79" stroke="#333" stroke-width="0.9" />
<text x="526.36" y="467.93" font-size="9.5" text-anchor="middle" fill="#1a1a1a" >a</text>
<line x1="325.7" y1="402.1" x2="325.7" y2="500.6" stroke="#5a5a5a" stroke-width="1.3" />
<line x1="325.1" y1="497.6" x2="541.8" y2="497.6" stroke="#5a5a5a" stroke-width="1.3" />
<line x1="322.9" y1="497.6" x2="325.7" y2="497.6" stroke="#5a5a5a" stroke-width="1.1" />
<line x1="322.9" y1="492.18" x2="325.7" y2="492.18" stroke="#5a5a5a" stroke-width="1.1" />
<line x1="322.9" y1="486.75" x2="325.7" y2="486.75" stroke="#5a5a5a" stroke-width="1.1" />
<line x1="322.9" y1="481.33" x2="325.7" y2="481.33" stroke="#5a5a5a" stroke-width="1.1" />
<line x1="322.9" y1="475.91" x2="325.7" y2="475.91" stroke="#5a5a5a" stroke-width="1.1" />
<line x1="322.9" y1="470.49" x2="325.7" y2="470.49" stroke="#5a5a5a" stroke-width="1.1" />
<line x1="322.9" y1="465.06" x2="325.7" y2="465.06" stroke="#5a5a5a" stroke-width="1.1" />
<line x1="322.9" y1="459.64" x2="325.7" y2="459.64" stroke="#5a5a5a" stroke-width="1.1" />
<line x1="322.9" y1="454.22" x2="325.7" y2="454.22" stroke="#5a5a5a" stroke-width="1.1" />
<line x1="322.9" y1="448.79" x2="325.7" y2="448.79" stroke="#5a5a5a" stroke-width="1.1" />
<line x1="322.9" y1="443.37" x2="325.7" y2="443.37" stroke="#5a5a5a" stroke-width="1.1" />
<line x1="322.9" y1="437.95" x2="325.7" y2="437.95" stroke="#5a5a5a" stroke-width="1.1" />
<line x1="322.9" y1="432.53" x2="325.7" y2="432.53" stroke="#5a5a5a" stroke-width="1.1" />
<line x1="322.9" y1="427.1" x2="325.7" y2="427.1" stroke="#5a5a5a" stroke-width="1.1" />
<line x1="322.9" y1="421.68" x2="325.7" y2="421.68" stroke="#5a5a5a" stroke-width="1.1" />
<line x1="322.9" y1="416.26" x2="325.7" y2="416.26" stroke="#5a5a5a" stroke-width="1.1" />
<line x1="322.9" y1="410.83" x2="325.7" y2="410.83" stroke="#5a5a5a" stroke-width="1.1" />
<line x1="322.9" y1="405.41" x2="325.7" y2="405.41" stroke="#5a5a5a" stroke-width="1.1" />
<text x="316.3" y="501.1" font-size="10" text-anchor="end" fill="#1a1a1a" >0</text>
<text x="316.3" y="473.99" font-size="10" text-anchor="end" fill="#1a1a1a" >1</text>
<text x="316.3" y="446.87" font-size="10" text-anchor="end" fill="#1a1a1a" >2</text>
<text x="316.3" y="419.76" font-size="10" text-anchor="end" fill="#1a1a1a" >3</text>
<line x1="325.7" y1="497.6" x2="325.7" y2="500.6" stroke="#5a5a5a" stroke-width="1.1" />
<line x1="356.57" y1="497.6" x2="356.57" y2="500.6" stroke="#5a5a5a" stroke-width="1.1" />
<line x1="387.44" y1="497.6" x2="387.44" y2="500.6" stroke="#5a5a5a" stroke-width="1.1" />
<line x1="418.31" y1="497.6" x2="418.31" y2="500.6" stroke="#5a5a5a" stroke-width="1.1" />
<line x1="449.19" y1="497.6" x2="449.19" y2="500.6" stroke="#5a5a5a" stroke-width="1.1" />
<line x1="480.06" y1="497.6" x2="480.06" y2="500.6" stroke="#5a5a5a" stroke-width="1.1" />
<line x1="510.93" y1="497.6" x2="510.93" y2="500.6" stroke="#5a5a5a" stroke-width="1.1" />
<line x1="541.8" y1="497.6" x2="541.8" y2="500.6" stroke="#5a5a5a" stroke-width="1.1" />
<text x="341.14" y="513.4" font-size="10" text-anchor="middle" fill="#1a1a1a" >NaCN</text>
<text x="372.01" y="513.4" font-size="10" text-anchor="middle" fill="#1a1a1a" >GF</text>
<text x="372.01" y="525.8" font-size="10" text-anchor="middle" fill="#1a1a1a" >0.1%</text>
<text x="402.88" y="513.4" font-size="10" text-anchor="middle" fill="#1a1a1a" >GF</text>
<text x="402.88" y="525.8" font-size="10" text-anchor="middle" fill="#1a1a1a" >0.5%</text>
<text x="433.75" y="513.4" font-size="10" text-anchor="middle" fill="#1a1a1a" >GF</text>
<text x="433.75" y="525.8" font-size="10" text-anchor="middle" fill="#1a1a1a" >1%</text>
<text x="464.62" y="513.4" font-size="10" text-anchor="middle" fill="#1a1a1a" >BF</text>
<text x="464.62" y="525.8" font-size="10" text-anchor="middle" fill="#1a1a1a" >0.1%</text>
<text x="495.49" y="513.4" font-size="10" text-anchor="middle" fill="#1a1a1a" >BF</text>
<text x="495.49" y="525.8" font-size="10" text-anchor="middle" fill="#1a1a1a" >0.5%</text>
<text x="526.36" y="513.4" font-size="10" text-anchor="middle" fill="#1a1a1a" >BF</text>
<text x="526.36" y="525.8" font-size="10" text-anchor="middle" fill="#1a1a1a" >1%</text>
<path d="M330.5,417 L330.5,415.4 Q330.5,413.8 332.1,413.8 L350.2,413.8 Q351.8,413.8 351.8,415.4 L351.8,417" stroke="#3a3a3a" stroke-width="1.0" fill="none" />
<text x="341.15" y="412.3" font-size="10.2" text-anchor="middle" fill="#1a1a1a" >C</text>
<path d="M362.3,417.3 L362.3,415.7 Q362.3,414.1 363.9,414.1 L442,414.1 Q443.6,414.1 443.6,415.7 L443.6,417.3" stroke="#3a3a3a" stroke-width="1.0" fill="none" />
<text x="402.95" y="412.3" font-size="10.2" text-anchor="middle" fill="#1a1a1a" >A</text>
<path d="M455,417.3 L455,415.7 Q455,414.1 456.6,414.1 L534.9,414.1 Q536.5,414.1 536.5,415.7 L536.5,417.3" stroke="#3a3a3a" stroke-width="1.0" fill="none" />
<text x="495.75" y="412.3" font-size="10.2" text-anchor="middle" fill="#1a1a1a" >B</text>
<text transform="translate(294.3,483.86) rotate(-90)" font-size="10" fill="#1a1a1a">k</text>
<text transform="translate(296.6,477.59) rotate(-90)" font-size="5.75" fill="#1a1a1a">INTESTINAL</text>
<text transform="translate(294.3,440.9) rotate(-90)" font-size="10" fill="#1a1a1a">(</text>
<text transform="translate(294.3,437.46) rotate(-90)" font-size="10" fill="#1a1a1a">h</text>
<text transform="translate(290.4,431.56) rotate(-90)" font-size="6" fill="#1a1a1a">&#8722;1</text>
<text transform="translate(294.3,423.2) rotate(-90)" font-size="10" fill="#1a1a1a">)</text>
<text x="294.5" y="410.5" font-size="17" text-anchor="start" fill="#1a1a1a" >F</text></g>
</svg></body></html>
